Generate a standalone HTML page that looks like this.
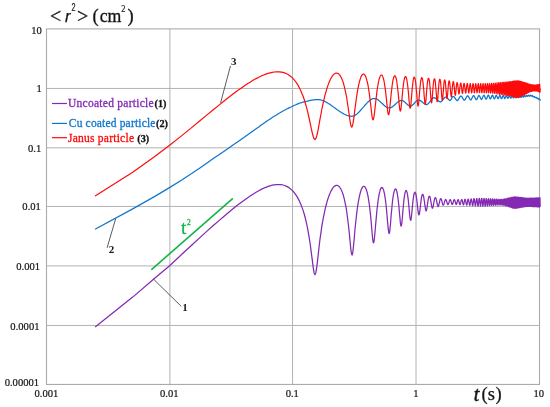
<!DOCTYPE html>
<html><head><meta charset="utf-8"><title>MSD</title>
<style>html,body{margin:0;padding:0;background:#fff}svg{display:block}</style>
</head><body>
<svg width="550" height="407" viewBox="0 0 550 407">
<rect width="550" height="407" fill="#fff"/>
<g stroke="#b2b2b2" stroke-width="1" fill="none"><line x1="169.9" y1="28.9" x2="169.9" y2="384.45"/><line x1="292.55" y1="28.9" x2="292.55" y2="384.45"/><line x1="416.0" y1="28.9" x2="416.0" y2="384.45"/><line x1="46.5" y1="88.45" x2="539.5" y2="88.45"/><line x1="46.5" y1="147.8" x2="539.5" y2="147.8"/><line x1="46.5" y1="206.45" x2="539.5" y2="206.45"/><line x1="46.5" y1="265.9" x2="539.5" y2="265.9"/><line x1="46.5" y1="325.45" x2="539.5" y2="325.45"/></g>
<rect x="46.5" y="28.9" width="493.00" height="355.55" fill="none" stroke="#ababab" stroke-width="1.1"/>
<g fill="none" stroke-linejoin="round" stroke-linecap="round">
<path stroke="#8429B3" stroke-width="1.25" d="M95.5,326.7 132.7,297.1 154.4,278.5 169.9,265.5 181.8,254.3 191.6,245.2 199.9,237.6 207.0,231.1 213.3,225.5 219.0,220.6 224.1,216.2 228.8,212.3 233.0,208.8 237.0,205.6 240.7,202.8 244.2,200.2 247.4,197.9 250.5,195.8 253.4,193.9 256.1,192.2 258.8,190.7 261.2,189.4 263.6,188.2 265.9,187.3 268.1,186.4 270.2,185.8 272.2,185.2 274.2,184.8 276.1,184.6 277.9,184.5 279.6,184.5 281.3,184.7 283.0,185.0 284.6,185.5 286.1,186.1 287.7,186.9 289.1,187.8 290.5,188.9 291.9,190.1 293.3,191.5 294.6,193.1 295.9,194.9 297.2,196.9 298.4,199.1 299.6,201.5 300.8,204.2 301.9,207.1 303.1,210.4 304.2,214.0 305.3,218.0 306.3,222.4 307.4,227.3 308.4,232.8 309.4,238.8 310.4,245.5 311.3,252.7 312.3,260.2 313.2,267.4 314.1,272.9 315.0,274.8 315.9,272.4 316.8,266.6 317.7,259.4 318.5,251.9 319.3,244.8 320.1,238.3 321.0,232.4 321.7,227.1 322.5,222.3 323.3,218.0 324.1,214.1 324.8,210.6 325.6,207.4 326.3,204.5 327.0,201.9 327.7,199.5 328.4,197.4 329.1,195.5 329.8,193.7 330.5,192.2 331.1,190.8 331.8,189.6 332.4,188.6 333.1,187.7 333.7,186.9 334.3,186.3 335.0,185.9 335.6,185.6 336.2,185.4 336.8,185.4 337.4,185.4 338.0,185.7 338.5,186.0 339.1,186.5 339.7,187.2 340.2,188.0 340.8,188.9 341.3,190.0 341.9,191.2 342.4,192.6 343.0,194.2 343.5,195.9 344.0,197.8 344.5,199.9 345.0,202.3 345.5,204.8 346.1,207.6 346.6,210.7 347.0,214.0 347.5,217.6 348.0,221.5 348.5,225.7 349.0,230.1 349.5,234.9 349.9,239.8 350.4,244.6 350.8,249.0 351.3,252.6 351.8,254.7 352.2,255.0 352.6,253.3 353.1,250.1 353.5,245.8 354.0,241.1 354.4,236.3 354.8,231.5 355.2,227.0 355.7,222.7 356.1,218.8 356.5,215.1 356.9,211.8 357.3,208.7 357.7,205.9 358.1,203.3 358.5,200.9 358.9,198.8 359.3,196.9 359.7,195.1 360.1,193.5 360.5,192.1 360.8,190.9 361.2,189.8 361.6,188.9 362.0,188.1 362.3,187.5 362.7,187.0 363.1,186.6 363.4,186.4 363.8,186.3 364.2,186.4 364.5,186.6 364.9,186.9 365.2,187.3 365.6,187.9 365.9,188.6 366.3,189.5 366.6,190.5 366.9,191.6 367.3,192.9 367.6,194.4 368.0,196.0 368.3,197.8 368.6,199.7 368.9,201.9 369.3,204.2 369.6,206.7 369.9,209.4 370.2,212.3 370.6,215.4 370.9,218.7 371.2,222.1 371.5,225.7 371.8,229.3 372.1,232.8 372.4,236.1 372.7,239.0 373.0,241.2 373.3,242.6 373.6,242.8 373.9,242.0 374.2,240.1 374.5,237.5 374.8,234.4 375.1,231.0 375.4,227.5 375.7,224.0 376.0,220.6 376.3,217.4 376.6,214.3 376.8,211.4 377.1,208.7 377.4,206.2 377.7,203.8 378.0,201.7 378.2,199.7 378.5,197.9 378.8,196.3 379.0,194.8 379.3,193.5 379.6,192.3 379.9,191.2 380.1,190.3 380.4,189.6 380.6,188.9 380.9,188.4 381.2,188.0 381.4,187.7 381.7,187.6 381.9,187.5 382.2,187.6 382.5,187.8 382.7,188.1 383.0,188.6 383.2,189.2 383.5,189.8 383.7,190.6 384.0,191.6 384.2,192.6 384.5,193.8 384.7,195.1 384.9,196.6 385.2,198.2 385.4,199.9 385.7,201.8 385.9,203.8 386.1,205.9 386.4,208.2 386.6,210.6 386.8,213.2 387.1,215.8 387.3,218.5 387.5,221.2 387.8,223.9 388.0,226.4 388.2,228.7 388.5,230.7 388.7,232.2 388.9,233.2 389.1,233.5 389.4,233.2 389.6,232.1 389.8,230.6 390.0,228.6 390.2,226.3 390.5,223.8 390.7,221.1 390.9,218.5 391.1,215.9 391.3,213.3 391.6,210.9 391.8,208.5 392.0,206.3 392.2,204.3 392.4,202.3 392.6,200.6 392.8,198.9 393.0,197.4 393.2,196.0 393.4,194.8 393.7,193.6 393.9,192.6 394.1,191.8 394.3,191.0 394.5,190.4 394.7,189.9 394.9,189.5 395.1,189.2 395.3,189.0 395.5,188.9 395.7,189.0 395.9,189.2 396.1,189.4 396.3,189.8 396.5,190.3 396.7,190.9 396.9,191.6 397.0,192.5 397.2,193.4 397.4,194.5 397.6,195.7 397.8,196.9 398.0,198.4 398.2,199.9 398.4,201.5 398.6,203.2 398.8,205.1 399.0,207.0 399.1,209.0 399.3,211.1 399.5,213.2 399.7,215.4 399.9,217.4 400.1,219.5 400.2,221.3 400.4,223.0 400.6,224.3 400.8,225.4 401.0,226.0 401.1,226.1 401.3,225.9 401.5,225.1 401.7,224.0 401.9,222.6 402.0,220.9 402.2,219.0 402.4,217.0 402.6,215.0 402.7,212.9 402.9,210.8 403.1,208.8 403.3,206.8 403.4,205.0 403.6,203.2 403.8,201.6 403.9,200.0 404.1,198.6 404.3,197.3 404.5,196.1 404.6,195.0 404.8,194.1 405.0,193.2 405.1,192.5 405.3,191.9 405.5,191.4 405.6,191.0 405.8,190.7 405.9,190.6 406.1,190.5 406.3,190.6 406.4,190.7 406.6,191.0 406.8,191.4 406.9,191.9 407.1,192.5 407.2,193.2 407.4,194.0 407.6,194.9 407.7,195.9 407.9,197.0 408.0,198.2 408.2,199.5 408.4,200.9 408.5,202.4 408.7,203.9 408.8,205.6 409.0,207.2 409.1,208.9 409.3,210.6 409.4,212.2 409.6,213.9 409.7,215.4 409.9,216.8 410.0,218.0 410.2,219.0 410.4,219.7 410.5,220.2 410.7,220.3 410.8,220.2 411.0,219.8 411.1,219.0 411.2,218.1 411.4,216.9 411.5,215.6 411.7,214.2 411.8,212.7 412.0,211.1 412.1,209.5 412.3,208.0 412.4,206.4 412.6,205.0 412.7,203.5 412.9,202.2 413.0,200.9 413.1,199.7 413.3,198.5 413.4,197.5 413.6,196.6 413.7,195.7 413.9,195.0 414.0,194.3 414.1,193.7 414.3,193.3 414.4,192.9 414.6,192.6 414.7,192.4 414.8,192.3 415.0,192.2 415.1,192.3 415.3,192.4 415.4,192.7 415.5,193.0 415.7,193.4 415.8,193.9 415.9,194.5 416.1,195.2 416.2,195.9 416.3,196.7 416.5,197.6 416.6,198.6 416.8,199.6 416.9,200.7 417.0,201.8 417.2,203.0 417.3,204.2 417.4,205.4 417.5,206.6 417.7,207.8 417.8,209.0 417.9,210.2 418.1,211.2 418.2,212.2 418.3,213.0 418.5,213.8 418.6,214.3 418.7,214.7 418.9,214.9 419.0,214.9 419.1,214.8 419.2,214.4 419.4,213.9 419.5,213.3 419.6,212.5 419.7,211.6 419.9,210.6 420.0,209.6 420.1,208.5 420.3,207.4 420.4,206.3 420.5,205.2 420.6,204.1 420.8,203.0 420.9,202.0 421.0,201.1 421.1,200.1 421.2,199.3 421.4,198.5 421.5,197.7 421.6,197.1 421.7,196.5 421.9,196.0 422.0,195.5 422.1,195.1 422.2,194.8 422.3,194.6 422.5,194.4 422.6,194.4 422.7,194.3 422.8,194.4 422.9,194.5 423.1,194.8 423.2,195.0 423.3,195.4 423.4,195.8 423.5,196.3 423.7,196.8 423.8,197.4 423.9,198.1 424.0,198.8 424.1,199.5 424.2,200.3 424.4,201.1 424.5,202.0 424.6,202.8 424.7,203.7 424.8,204.6 424.9,205.5 425.1,206.3 425.2,207.1 425.3,207.9 425.4,208.6 425.5,209.2 425.6,209.8 425.7,210.2 425.9,210.5 426.0,210.8 426.1,210.9 426.2,210.9 426.3,210.7 426.4,210.5 426.5,210.2 426.6,209.7 426.7,209.2 426.9,208.6 427.0,207.9 427.1,207.2 427.2,206.5 427.3,205.7 427.4,204.9 427.5,204.1 427.6,203.4 427.7,202.6 427.8,201.9 428.0,201.1 428.1,200.5 428.2,199.8 428.3,199.3 428.4,198.7 428.5,198.2 428.6,197.8 428.7,197.4 428.8,197.1 428.9,196.8 429.0,196.6 429.1,196.4 429.2,196.3 429.4,196.2 429.5,196.3 429.6,196.3 429.7,196.4 429.8,196.6 429.9,196.8 430.0,197.1 430.1,197.4 430.2,197.8 430.3,198.2 430.4,198.7 430.5,199.2 430.6,199.7 430.7,200.3 430.8,200.9 430.9,201.5 431.0,202.1 431.1,202.7 431.2,203.3 431.3,204.0 431.4,204.6 431.5,205.2 431.6,205.7 431.7,206.2 431.8,206.7 431.9,207.1 432.0,207.5 432.1,207.8 432.2,208.0 432.3,208.1 432.4,208.2 432.5,208.2 432.6,208.1 432.7,207.9 432.8,207.7 432.9,207.4 433.0,207.0 433.1,206.6 433.2,206.1 433.3,205.6 433.4,205.1 433.5,204.6 433.6,204.0 433.7,203.4 433.8,202.9 433.9,202.3 434.0,201.8 434.1,201.3 434.2,200.7 434.3,200.3 434.4,199.8 434.5,199.4 434.6,199.0 434.7,198.7 434.8,198.4 434.9,198.2 435.0,197.9 435.1,197.8 435.2,197.7 435.3,197.6 435.4,197.6 435.5,197.6 435.6,197.7 435.7,197.9 435.8,198.1 435.9,198.3 436.0,198.5 436.1,198.8 436.2,199.2 436.3,199.5 436.4,199.9 436.5,200.3 436.6,200.8 436.7,201.2 436.8,201.7 436.9,202.2 436.9,202.6 437.0,203.1 437.1,203.5 437.2,204.0 437.3,204.4 437.4,204.8 437.5,205.2 437.6,205.5 437.7,205.8 437.8,206.0 437.9,206.2 437.9,206.4 438.0,206.5 438.1,206.5 438.2,206.5 438.3,206.4 438.4,206.3 438.5,206.1 438.6,205.9 438.7,205.6 438.8,205.3 438.8,204.9 438.9,204.6 439.0,204.2 439.1,203.8 439.2,203.4 439.3,203.0 439.4,202.6 439.5,202.1 439.6,201.7 439.6,201.3 439.7,201.0 439.8,200.6 439.9,200.3 440.0,200.0 440.1,199.7 440.2,199.4 440.2,199.2 440.3,199.0 440.4,198.9 440.5,198.8 440.6,198.7 440.7,198.6 440.8,198.6 440.9,198.7 441.0,198.8 441.1,198.9 441.2,199.0 441.3,199.2 441.4,199.4 441.4,199.7 441.5,199.9 441.6,200.2 441.7,200.5 441.8,200.8 441.9,201.1 441.9,201.5 442.0,201.8 442.1,202.2 442.2,202.5 442.3,202.8 442.4,203.2 442.4,203.5 442.5,203.8 442.6,204.1 442.7,204.3 442.8,204.5 442.9,204.7 442.9,204.9 443.0,205.0 443.1,205.1 443.2,205.1 443.3,205.1 443.4,205.1 443.4,205.0 443.5,204.9 443.6,204.8 443.7,204.6 443.8,204.4 443.8,204.2 443.9,204.0 444.0,203.7 444.1,203.5 444.2,203.2 444.2,202.9 444.3,202.6 444.4,202.3 444.5,202.0 444.6,201.7 444.6,201.5 444.7,201.2 444.8,201.0 444.9,200.7 445.0,200.5 445.0,200.3 445.1,200.1 445.2,200.0 445.3,199.8 445.4,199.7 445.5,199.6 445.6,199.6 445.7,199.5 445.7,199.6 445.8,199.6 445.9,199.7 446.0,199.8 446.1,199.9 446.1,200.0 446.2,200.1 446.3,200.3 446.4,200.5 446.4,200.7 446.5,200.9 446.6,201.2 446.7,201.4 446.8,201.7 446.8,201.9 446.9,202.2 447.0,202.4 447.1,202.7 447.1,202.9 447.2,203.2 447.3,203.4 447.4,203.6 447.4,203.8 447.5,204.0 447.6,204.1 447.7,204.3 447.7,204.4 447.8,204.4 447.9,204.5 448.0,204.5 448.1,204.4 448.2,204.4 448.3,204.3 448.3,204.1 448.4,204.0 448.5,203.8 448.6,203.6 448.6,203.4 448.7,203.2 448.8,203.0 448.9,202.7 448.9,202.5 449.0,202.2 449.1,202.0 449.1,201.7 449.2,201.5 449.3,201.2 449.4,201.0 449.4,200.8 449.5,200.6 449.6,200.4 449.7,200.2 449.7,200.1 449.8,200.0 449.9,199.9 449.9,199.8 450.0,199.7 450.1,199.7 450.2,199.7 450.3,199.7 450.4,199.8 450.5,199.9 450.5,200.0 450.6,200.1 450.7,200.3 450.7,200.4 450.8,200.6 450.9,200.8 451.0,201.0 451.0,201.2 451.1,201.5 451.2,201.7 451.2,202.0 451.3,202.2 451.4,202.5 451.4,202.7 451.5,202.9 451.6,203.2 451.7,203.4 451.7,203.6 451.8,203.8 451.9,203.9 451.9,204.1 452.0,204.2 452.1,204.3 452.1,204.4 452.2,204.4 452.3,204.4 452.4,204.4 452.5,204.3 452.6,204.2 452.6,204.1 452.7,203.9 452.8,203.7 452.8,203.6 452.9,203.3 453.0,203.1 453.0,202.9 453.1,202.7 453.2,202.4 453.2,202.2 453.3,201.9 453.4,201.7 453.4,201.4 453.5,201.2 453.6,201.0 453.6,200.8 453.7,200.6 453.8,200.4 453.8,200.2 453.9,200.1 454.0,200.0 454.0,199.9 454.1,199.8 454.2,199.8 454.2,199.7 454.3,199.7 454.4,199.7 454.4,199.8 454.5,199.8 454.6,199.9 454.6,200.0 454.7,200.2 454.8,200.3 454.8,200.5 454.9,200.7 455.0,200.9 455.0,201.1 455.1,201.3 455.2,201.5 455.2,201.8 455.3,202.0 455.4,202.3 455.4,202.5 455.5,202.7 455.6,203.0 455.6,203.2 455.7,203.4 455.8,203.6 455.8,203.8 455.9,204.0 456.0,204.1 456.0,204.2 456.1,204.3 456.1,204.4 456.2,204.4 456.3,204.4 456.4,204.4 456.5,204.3 456.5,204.2 456.6,204.0 456.7,203.9 456.7,203.7 456.8,203.5 456.8,203.3 456.9,203.1 457.0,202.9 457.0,202.6 457.1,202.4 457.2,202.1 457.2,201.9 457.3,201.6 457.4,201.4 457.4,201.1 457.5,200.9 457.5,200.7 457.6,200.5 457.7,200.3 457.7,200.2 457.8,200.0 457.9,199.9 457.9,199.8 458.0,199.7 458.1,199.6 458.2,199.6 458.2,199.7 458.3,199.7 458.3,199.8 458.4,199.9 458.5,200.0 458.5,200.1 458.6,200.3 458.7,200.4 458.7,200.6 458.8,200.8 458.8,201.1 458.9,201.3 459.0,201.6 459.0,201.8 459.1,202.1 459.1,202.3 459.2,202.6 459.3,202.8 459.3,203.1 459.4,203.3 459.4,203.6 459.5,203.8 459.6,204.0 459.6,204.1 459.7,204.3 459.7,204.4 459.8,204.5 459.9,204.6 460.0,204.6 460.1,204.5 460.2,204.4 460.2,204.3 460.3,204.2 460.3,204.0 460.4,203.8 460.5,203.6 460.5,203.4 460.6,203.1 460.6,202.9 460.7,202.6 460.8,202.3 460.8,202.1 460.9,201.8 460.9,201.5 461.0,201.3 461.1,201.0 461.1,200.8 461.2,200.6 461.2,200.4 461.3,200.2 461.3,200.0 461.4,199.9 461.5,199.7 461.5,199.6 461.6,199.6 461.6,199.5 461.7,199.5 461.8,199.5 461.9,199.5 461.9,199.6 462.0,199.7 462.0,199.8 462.1,200.0 462.2,200.2 462.2,200.4 462.3,200.6 462.3,200.8 462.4,201.0 462.4,201.3 462.5,201.6 462.6,201.8 462.6,202.1 462.7,202.4 462.7,202.7 462.8,203.0 462.8,203.2 462.9,203.5 463.0,203.7 463.0,204.0 463.1,204.2 463.1,204.4 463.2,204.5 463.2,204.6 463.3,204.7 463.4,204.8 463.5,204.8 463.6,204.7 463.6,204.6 463.7,204.5 463.7,204.3 463.8,204.1 463.9,203.9 463.9,203.7 464.0,203.4 464.0,203.2 464.1,202.9 464.1,202.6 464.2,202.3 464.2,202.0 464.3,201.7 464.4,201.5 464.4,201.2 464.5,200.9 464.5,200.7 464.6,200.4 464.6,200.2 464.7,200.0 464.7,199.8 464.8,199.7 464.8,199.5 464.9,199.4 465.0,199.3 465.1,199.3 465.2,199.3 465.2,199.4 465.3,199.5 465.3,199.6 465.4,199.7 465.4,199.9 465.5,200.1 465.6,200.3 465.6,200.5 465.7,200.8 465.7,201.0 465.8,201.3 465.8,201.6 465.9,201.9 465.9,202.2 466.0,202.5 466.0,202.8 466.1,203.1 466.1,203.4 466.2,203.7 466.2,203.9 466.3,204.2 466.4,204.4 466.4,204.6 466.5,204.7 466.5,204.9 466.6,205.0 466.7,205.1 466.8,205.0 466.8,204.9 466.9,204.8 466.9,204.7 467.0,204.5 467.0,204.3 467.1,204.0 467.1,203.8 467.2,203.5 467.3,203.2 467.3,202.9 467.4,202.6 467.4,202.3 467.5,202.0 467.5,201.7 467.6,201.4 467.6,201.1 467.7,200.8 467.7,200.5 467.8,200.3 467.8,200.0 467.9,199.8 467.9,199.6 468.0,199.5 468.0,199.3 468.1,199.2 468.2,199.1 468.3,199.1 468.3,199.2 468.4,199.2 468.4,199.3 468.5,199.5 468.5,199.6 468.6,199.8 468.6,200.0 468.7,200.2 468.7,200.5 468.8,200.7 468.8,201.0 468.9,201.3 468.9,201.6 469.0,202.0 469.1,202.3 469.1,202.6 469.2,202.9 469.2,203.3 469.3,203.6 469.3,203.8 469.4,204.1 469.4,204.4 469.5,204.6 469.5,204.8 469.6,205.0 469.6,205.1 469.7,205.2 469.7,205.3 469.8,205.3 469.9,205.2 469.9,205.1 470.0,205.0 470.0,204.8 470.1,204.6 470.1,204.4 470.2,204.1 470.2,203.8 470.2,203.5 470.3,203.2 470.3,202.9 470.4,202.6 470.4,202.2 470.5,201.9 470.5,201.6 470.6,201.3 470.6,200.9 470.7,200.6 470.7,200.4 470.8,200.1 470.8,199.9 470.9,199.6 470.9,199.5 471.0,199.3 471.0,199.2 471.1,199.1 471.1,199.0 471.2,198.9 471.3,198.9 471.3,199.0 471.4,199.1 471.4,199.2 471.5,199.3 471.5,199.5 471.6,199.7 471.6,199.9 471.7,200.2 471.7,200.4 471.8,200.7 471.8,201.0 471.9,201.4 471.9,201.7 472.0,202.0 472.0,202.4 472.0,202.7 472.1,203.1 472.1,203.4 472.2,203.7 472.2,204.0 472.3,204.3 472.3,204.6 472.4,204.8 472.4,205.1 472.5,205.2 472.5,205.4 472.6,205.5 472.7,205.5 472.8,205.4 472.8,205.3 472.9,205.2 472.9,205.0 472.9,204.8 473.0,204.5 473.0,204.2 473.1,203.9 473.1,203.6 473.2,203.3 473.2,202.9 473.3,202.6 473.3,202.2 473.4,201.8 473.4,201.5 473.5,201.1 473.5,200.8 473.6,200.5 473.6,200.2 473.6,199.9 473.7,199.7 473.7,199.5 473.8,199.3 473.8,199.1 473.9,198.9 473.9,198.8 474.0,198.8 474.0,198.7 474.1,198.7 474.2,198.8 474.2,198.9 474.2,199.0 474.3,199.2 474.3,199.4 474.4,199.6 474.4,199.8 474.5,200.1 474.5,200.4 474.6,200.7 474.6,201.0 474.7,201.4 474.7,201.7 474.7,202.1 474.8,202.5 474.8,202.9 474.9,203.2 474.9,203.6 475.0,203.9 475.0,204.3 475.1,204.6 475.1,204.8 475.2,205.1 475.2,205.3 475.2,205.5 475.3,205.6 475.3,205.7 475.4,205.8 475.5,205.7 475.5,205.6 475.6,205.5 475.6,205.3 475.7,205.1 475.7,204.9 475.7,204.6 475.8,204.3 475.8,204.0 475.9,203.6 475.9,203.3 476.0,202.9 476.0,202.5 476.1,202.1 476.1,201.8 476.1,201.4 476.2,201.0 476.2,200.7 476.3,200.3 476.3,200.0 476.4,199.8 476.4,199.5 476.4,199.3 476.5,199.1 476.5,198.9 476.6,198.8 476.6,198.7 476.7,198.6 476.8,198.6 476.8,198.7 476.9,198.8 476.9,198.9 477.0,199.1 477.0,199.3 477.1,199.5 477.1,199.8 477.1,200.1 477.2,200.4 477.2,200.7 477.3,201.1 477.3,201.4 477.4,201.8 477.4,202.2 477.5,202.6 477.5,203.0 477.5,203.4 477.6,203.7 477.6,204.1 477.7,204.4 477.7,204.8 477.8,205.1 477.8,205.3 477.8,205.5 477.9,205.7 477.9,205.8 478.0,205.9 478.0,206.0 478.1,206.0 478.1,205.9 478.1,205.8 478.2,205.7 478.2,205.5 478.3,205.2 478.3,205.0 478.4,204.7 478.4,204.4 478.4,204.0 478.5,203.6 478.5,203.2 478.6,202.9 478.6,202.5 478.6,202.1 478.7,201.7 478.7,201.3 478.8,200.9 478.8,200.6 478.9,200.2 478.9,199.9 478.9,199.6 479.0,199.4 479.0,199.1 479.1,198.9 479.1,198.8 479.2,198.6 479.2,198.5 479.3,198.4 479.4,198.5 479.4,198.6 479.4,198.7 479.5,198.8 479.5,199.0 479.6,199.2 479.6,199.5 479.7,199.8 479.7,200.1 479.7,200.4 479.8,200.7 479.8,201.1 479.9,201.5 479.9,201.9 479.9,202.3 480.0,202.7 480.0,203.1 480.1,203.5 480.1,203.9 480.1,204.2 480.2,204.6 480.2,204.9 480.3,205.2 480.3,205.5 480.4,205.7 480.4,205.8 480.4,206.0 480.5,206.1 480.6,206.1 480.6,206.0 480.6,205.9 480.7,205.7 480.7,205.5 480.8,205.3 480.8,205.0 480.8,204.7 480.9,204.3 480.9,204.0 481.0,203.6 481.0,203.2 481.0,202.8 481.1,202.4 481.1,202.0 481.2,201.6 481.2,201.2 481.2,200.8 481.3,200.5 481.3,200.1 481.4,199.8 481.4,199.5 481.4,199.3 481.5,199.0 481.5,198.8 481.6,198.7 481.6,198.6 481.6,198.5 481.7,198.4 481.8,198.4 481.8,198.5 481.9,198.7 481.9,198.8 482.0,199.0 482.0,199.3 482.0,199.5 482.1,199.8 482.1,200.1 482.2,200.4 482.2,200.8 482.2,201.2 482.3,201.6 482.3,202.0 482.4,202.4 482.4,202.8 482.4,203.2 482.5,203.6 482.5,204.0 482.6,204.3 482.6,204.7 482.6,205.0 482.7,205.3 482.7,205.5 482.8,205.7 482.8,205.9 482.8,206.0 482.9,206.1 483.0,206.0 483.0,205.8 483.1,205.7 483.1,205.5 483.1,205.2 483.2,204.9 483.2,204.6 483.3,204.3 483.3,203.9 483.3,203.5 483.4,203.1 483.4,202.7 483.5,202.3 483.5,201.9 483.5,201.5 483.6,201.1 483.6,200.8 483.6,200.4 483.7,200.1 483.7,199.8 483.8,199.5 483.8,199.2 483.8,199.0 483.9,198.8 483.9,198.7 484.0,198.6 484.0,198.5 484.0,198.4 484.1,198.4 484.1,198.5 484.2,198.6 484.2,198.8 484.3,198.9 484.3,199.1 484.3,199.4 484.4,199.6 484.4,199.9 484.4,200.2 484.5,200.5 484.5,200.9 484.6,201.3 484.6,201.7 484.6,202.0 484.7,202.4 484.7,202.8 484.8,203.2 484.8,203.6 484.8,204.0 484.9,204.3 484.9,204.7 484.9,205.0 485.0,205.2 485.0,205.5 485.1,205.6 485.1,205.8 485.1,205.9 485.2,206.0 485.2,205.9 485.3,205.8 485.3,205.7 485.4,205.5 485.4,205.3 485.4,205.1 485.5,204.8 485.5,204.5 485.5,204.1 485.6,203.8 485.6,203.4 485.6,203.0 485.7,202.6 485.7,202.2 485.8,201.8 485.8,201.4 485.8,201.1 485.9,200.7 485.9,200.4 485.9,200.1 486.0,199.8 486.0,199.5 486.1,199.3 486.1,199.1 486.1,198.9 486.2,198.8 486.2,198.7 486.2,198.6 486.3,198.6 486.4,198.7 486.4,198.8 486.5,198.9 486.5,199.1 486.5,199.3 486.6,199.5 486.6,199.7 486.6,200.0 486.7,200.3 486.7,200.7 486.7,201.0 486.8,201.4 486.8,201.7 486.9,202.1 486.9,202.5 486.9,202.9 487.0,203.3 487.0,203.6 487.0,204.0 487.1,204.3 487.1,204.6 487.1,204.9 487.2,205.1 487.2,205.3 487.3,205.5 487.3,205.7 487.4,205.8 487.4,205.7 487.5,205.6 487.5,205.5 487.5,205.3 487.6,205.1 487.6,204.9 487.6,204.6 487.7,204.3 487.7,204.0 487.8,203.6 487.8,203.2 487.8,202.9 487.9,202.5 487.9,202.1 487.9,201.8 488.0,201.4 488.0,201.0 488.0,200.7 488.1,200.4 488.1,200.1 488.1,199.8 488.2,199.6 488.2,199.4 488.3,199.2 488.3,199.0 488.3,198.9 488.4,198.8 488.4,198.7 488.5,198.7 488.5,198.8 488.6,198.9 488.6,199.0 488.6,199.2 488.7,199.4 488.7,199.6 488.7,199.9 488.8,200.2 488.8,200.5 488.9,200.8 488.9,201.1 488.9,201.5 489.0,201.8 489.0,202.2 489.0,202.5 489.1,202.9 489.1,203.3 489.1,203.6 489.2,203.9 489.2,204.2 489.2,204.5 489.3,204.8 489.3,205.0 489.3,205.2 489.4,205.4 489.4,205.5 489.4,205.6 489.5,205.6 489.5,205.5 489.6,205.4 489.6,205.3 489.6,205.1 489.7,204.9 489.7,204.7 489.8,204.4 489.8,204.1 489.8,203.8 489.9,203.5 489.9,203.1 489.9,202.8 490.0,202.4 490.0,202.0 490.0,201.7 490.1,201.4 490.1,201.0 490.1,200.7 490.2,200.4 490.2,200.1 490.2,199.9 490.3,199.6 490.3,199.4 490.3,199.3 490.4,199.1 490.4,199.0 490.4,198.9 490.5,198.8 490.6,198.9 490.6,199.0 490.6,199.1 490.7,199.2 490.7,199.4 490.7,199.6 490.8,199.8 490.8,200.0 490.8,200.3 490.9,200.6 490.9,200.9 490.9,201.2 491.0,201.6 491.0,201.9 491.0,202.2 491.1,202.6 491.1,202.9 491.1,203.3 491.2,203.6 491.2,203.9 491.2,204.2 491.3,204.5 491.3,204.7 491.3,204.9 491.4,205.1 491.4,205.2 491.4,205.4 491.5,205.4 491.6,205.4 491.6,205.3 491.6,205.1 491.7,205.0 491.7,204.7 491.7,204.5 491.8,204.2 491.8,204.0 491.8,203.7 491.9,203.3 491.9,203.0 491.9,202.7 492.0,202.3 492.0,202.0 492.0,201.6 492.1,201.3 492.1,201.0 492.1,200.7 492.2,200.4 492.2,200.1 492.2,199.9 492.3,199.7 492.3,199.5 492.3,199.3 492.4,199.2 492.4,199.1 492.4,199.0 492.5,198.9 492.6,199.0 492.6,199.1 492.6,199.2 492.7,199.3 492.7,199.5 492.7,199.7 492.8,199.9 492.8,200.1 492.8,200.4 492.9,200.7 492.9,201.0 492.9,201.3 493.0,201.6 493.0,202.0 493.0,202.3 493.0,202.6 493.1,203.0 493.1,203.3 493.1,203.6 493.2,203.9 493.2,204.2 493.2,204.4 493.3,204.7 493.3,204.9 493.3,205.0 493.4,205.2 493.4,205.3 493.5,205.3 493.5,205.2 493.6,205.1 493.6,205.0 493.6,204.8 493.7,204.6 493.7,204.4 493.7,204.1 493.8,203.8 493.8,203.5 493.8,203.2 493.8,202.9 493.9,202.6 493.9,202.2 493.9,201.9 494.0,201.6 494.0,201.3 494.0,201.0 494.1,200.7 494.1,200.4 494.1,200.1 494.2,199.9 494.2,199.7 494.2,199.5 494.3,199.4 494.3,199.2 494.3,199.1 494.4,199.1 494.4,199.0 494.5,199.1 494.5,199.2 494.5,199.3 494.6,199.4 494.6,199.6 494.6,199.8 494.7,200.0 494.7,200.3 494.7,200.5 494.8,200.8 494.8,201.1 494.8,201.4 494.9,201.7 494.9,202.0 494.9,202.4 495.0,202.7 495.0,203.0 495.0,203.3 495.0,203.6 495.1,203.9 495.1,204.1 495.1,204.4 495.2,204.6 495.2,204.8 495.2,204.9 495.3,205.1 495.3,205.2 495.4,205.2 495.4,205.1 495.4,205.0 495.5,204.8 495.5,204.7 495.5,204.5 495.6,204.2 495.6,204.0 495.6,203.7 495.7,203.4 495.7,203.1 495.7,202.8 495.8,202.5 495.8,202.2 495.8,201.8 495.8,201.5 495.9,201.2 495.9,200.9 495.9,200.7 496.0,200.4 496.0,200.2 496.0,199.9 496.1,199.7 496.1,199.6 496.1,199.4 496.2,199.3 496.2,199.2 496.2,199.1 496.3,199.1 496.3,199.2 496.4,199.3 496.4,199.4 496.4,199.6 496.5,199.7 496.5,199.9 496.5,200.1 496.5,200.4 496.6,200.6 496.6,200.9 496.6,201.2 496.7,201.5 496.7,201.8 496.7,202.1 496.8,202.4 496.8,202.7 496.8,203.0 496.9,203.3 496.9,203.6 496.9,203.9 496.9,204.1 497.0,204.3 497.0,204.5 497.0,204.7 497.1,204.9 497.1,205.0 497.2,205.1 497.2,205.0 497.3,204.8 497.3,204.7 497.3,204.5 497.4,204.3 497.4,204.1 497.4,203.9 497.4,203.6 497.5,203.3 497.5,203.0 497.5,202.7 497.6,202.4 497.6,202.1 497.6,201.8 497.7,201.5 497.7,201.2 497.7,200.9 497.7,200.7 497.8,200.4 497.8,200.2 497.8,200.0 497.9,199.8 497.9,199.6 497.9,199.5 498.0,199.4 498.0,199.3 498.0,199.2 498.1,199.2 498.1,199.3 498.2,199.4 498.2,199.5 498.2,199.7 498.2,199.8 498.3,200.0 498.3,200.2 498.3,200.5 498.4,200.7 498.4,201.0 498.4,201.3 498.5,201.5 498.5,201.8 498.5,202.1 498.5,202.4 498.6,202.7 498.6,203.0 498.6,203.3 498.7,203.6 498.7,203.9 498.7,204.1 498.7,204.3 498.8,204.5 498.8,204.7 498.8,204.8 498.9,204.9 498.9,205.0 499.0,204.9 499.0,204.7 499.1,204.6 499.1,204.4 499.1,204.2 499.1,204.0 499.2,203.8 499.2,203.5 499.2,203.2 499.3,202.9 499.3,202.6 499.3,202.3 499.3,202.0 499.4,201.7 499.4,201.4 499.4,201.2 499.5,200.9 499.5,200.6 499.5,200.4 499.5,200.2 499.6,200.0 499.6,199.8 499.6,199.6 499.7,199.5 499.7,199.4 499.7,199.3 499.8,199.3 499.9,199.4 499.9,199.5 499.9,199.6 499.9,199.7 500.0,199.9 500.0,200.1 500.0,200.3 500.1,200.5 500.1,200.8 500.1,201.0 500.1,201.3 500.2,201.6 500.2,201.9 500.2,202.2 500.3,202.5 500.3,202.8 500.3,203.1 500.3,203.4 500.4,203.6 500.4,203.9 500.4,204.1 500.5,204.3 500.5,204.5 500.5,204.7 500.5,204.8 500.6,204.9 500.7,204.9 500.7,204.8 500.7,204.7 500.8,204.5 500.8,204.4 500.8,204.2 500.8,203.9 500.9,203.7 500.9,203.4 500.9,203.2 501.0,202.9 501.0,202.6 501.0,202.3 501.0,202.0 501.1,201.7 501.1,201.4 501.1,201.1 501.2,200.8 501.2,200.6 501.2,200.4 501.2,200.1 501.3,199.9 501.3,199.8 501.3,199.6 501.3,199.5 501.4,199.4 501.4,199.3 501.5,199.3 501.5,199.4 501.6,199.5 501.6,199.6 501.6,199.7 501.7,199.9 501.7,200.1 501.7,200.3 501.7,200.6 501.8,200.8 501.8,201.1 501.8,201.4 501.8,201.7 501.9,202.0 501.9,202.3 501.9,202.6 502.0,202.9 502.0,203.2 502.0,203.4 502.0,203.7 502.1,204.0 502.1,204.2 502.1,204.4 502.1,204.6 502.2,204.8 502.2,204.9 502.2,205.0 502.3,205.0 502.4,204.9 502.4,204.8 502.4,204.6 502.4,204.4 502.5,204.2 502.5,204.0 502.5,203.7 502.6,203.4 502.6,203.1 502.6,202.8 502.6,202.5 502.7,202.2 502.7,201.9 502.7,201.6 502.7,201.3 502.8,201.0 502.8,200.7 502.8,200.5 502.8,200.2 502.9,200.0 502.9,199.8 502.9,199.6 503.0,199.5 503.0,199.3 503.0,199.2 503.1,199.1 503.1,199.2 503.2,199.2 503.2,199.3 503.2,199.5 503.3,199.6 503.3,199.8 503.3,200.0 503.3,200.3 503.4,200.5 503.4,200.8 503.4,201.1 503.4,201.4 503.5,201.7 503.5,202.0 503.5,202.4 503.5,202.7 503.6,203.0 503.6,203.3 503.6,203.6 503.7,203.9 503.7,204.2 503.7,204.4 503.7,204.7 503.8,204.9 503.8,205.0 503.8,205.2 503.8,205.3 503.9,205.3 503.9,205.2 504.0,205.1 504.0,205.0 504.0,204.8 504.0,204.6 504.1,204.4 504.1,204.1 504.1,203.8 504.2,203.5 504.2,203.2 504.2,202.9 504.2,202.5 504.3,202.2 504.3,201.8 504.3,201.5 504.3,201.2 504.4,200.9 504.4,200.6 504.4,200.3 504.4,200.0 504.5,199.8 504.5,199.6 504.5,199.4 504.5,199.2 504.6,199.1 504.6,199.0 504.6,198.9 504.6,198.8 504.7,198.8 504.7,198.9 504.8,199.0 504.8,199.1 504.8,199.3 504.8,199.5 504.9,199.7 504.9,199.9 504.9,200.2 504.9,200.4 505.0,200.7 505.0,201.1 505.0,201.4 505.0,201.8 505.1,202.1 505.1,202.5 505.1,202.8 505.1,203.2 505.2,203.5 505.2,203.9 505.2,204.2 505.2,204.5 505.3,204.8 505.3,205.0 505.3,205.2 505.3,205.4 505.4,205.5 505.4,205.6 505.4,205.7 505.5,205.7 505.5,205.6 505.5,205.5 505.6,205.3 505.6,205.1 505.6,204.9 505.6,204.6 505.7,204.3 505.7,204.0 505.7,203.6 505.7,203.3 505.8,202.9 505.8,202.5 505.8,202.1 505.8,201.8 505.9,201.4 505.9,201.0 505.9,200.7 505.9,200.4 506.0,200.0 506.0,199.8 506.0,199.5 506.0,199.3 506.1,199.1 506.1,198.9 506.1,198.7 506.1,198.6 506.2,198.6 506.2,198.5 506.2,198.6 506.3,198.6 506.3,198.7 506.3,198.9 506.3,199.0 506.4,199.2 506.4,199.5 506.4,199.7 506.4,200.0 506.5,200.3 506.5,200.7 506.5,201.0 506.5,201.4 506.6,201.8 506.6,202.2 506.6,202.6 506.6,203.0 506.7,203.4 506.7,203.8 506.7,204.2 506.7,204.5 506.8,204.8 506.8,205.1 506.8,205.4 506.8,205.6 506.9,205.8 506.9,206.0 506.9,206.1 507.0,206.1 507.0,206.0 507.0,205.8 507.1,205.6 507.1,205.4 507.1,205.1 507.1,204.8 507.2,204.5 507.2,204.1 507.2,203.7 507.2,203.3 507.3,202.9 507.3,202.5 507.3,202.1 507.3,201.7 507.4,201.3 507.4,200.9 507.4,200.5 507.4,200.1 507.5,199.8 507.5,199.5 507.5,199.2 507.5,199.0 507.6,198.8 507.6,198.6 507.6,198.4 507.6,198.3 507.7,198.3 507.7,198.2 507.7,198.3 507.8,198.4 507.8,198.5 507.8,198.6 507.8,198.8 507.9,199.1 507.9,199.3 507.9,199.6 507.9,199.9 508.0,200.3 508.0,200.7 508.0,201.0 508.0,201.5 508.1,201.9 508.1,202.3 508.1,202.7 508.1,203.2 508.1,203.6 508.2,204.0 508.2,204.4 508.2,204.8 508.2,205.2 508.3,205.5 508.3,205.8 508.3,206.0 508.3,206.2 508.4,206.4 508.4,206.5 508.5,206.4 508.5,206.3 508.5,206.1 508.5,205.9 508.6,205.6 508.6,205.3 508.6,205.0 508.6,204.6 508.7,204.2 508.7,203.8 508.7,203.3 508.7,202.9 508.8,202.4 508.8,202.0 508.8,201.5 508.8,201.1 508.8,200.7 508.9,200.3 508.9,199.9 508.9,199.6 508.9,199.2 509.0,198.9 509.0,198.7 509.0,198.5 509.0,198.3 509.1,198.1 509.1,198.0 509.1,197.9 509.2,197.9 509.2,198.0 509.2,198.1 509.2,198.2 509.3,198.4 509.3,198.6 509.3,198.9 509.3,199.2 509.4,199.5 509.4,199.8 509.4,200.2 509.4,200.6 509.4,201.1 509.5,201.5 509.5,202.0 509.5,202.4 509.5,202.9 509.6,203.4 509.6,203.9 509.6,204.3 509.6,204.8 509.7,205.2 509.7,205.6 509.7,205.9 509.7,206.2 509.8,206.5 509.8,206.7 509.8,206.8 509.8,206.9 509.9,207.0 509.9,206.9 509.9,206.7 509.9,206.5 510.0,206.3 510.0,205.9 510.0,205.6 510.0,205.2 510.1,204.8 510.1,204.3 510.1,203.9 510.1,203.4 510.2,202.9 510.2,202.4 510.2,201.9 510.2,201.4 510.3,200.9 510.3,200.5 510.3,200.0 510.3,199.6 510.3,199.3 510.4,198.9 510.4,198.6 510.4,198.3 510.4,198.1 510.5,197.9 510.5,197.8 510.5,197.6 510.6,197.6 510.6,197.7 510.6,197.8 510.6,197.9 510.7,198.1 510.7,198.4 510.7,198.6 510.7,199.0 510.8,199.3 510.8,199.7 510.8,200.1 510.8,200.6 510.9,201.1 510.9,201.6 510.9,202.1 510.9,202.6 510.9,203.1 511.0,203.6 511.0,204.2 511.0,204.7 511.0,205.2 511.1,205.6 511.1,206.0 511.1,206.4 511.1,206.7 511.2,207.0 511.2,207.2 511.2,207.4 511.2,207.5 511.3,207.5 511.3,207.4 511.3,207.2 511.3,206.9 511.4,206.6 511.4,206.3 511.4,205.9 511.4,205.4 511.5,205.0 511.5,204.5 511.5,203.9 511.5,203.4 511.5,202.9 511.6,202.3 511.6,201.8 511.6,201.2 511.6,200.7 511.7,200.3 511.7,199.8 511.7,199.4 511.7,199.0 511.8,198.6 511.8,198.3 511.8,198.0 511.8,197.7 511.8,197.5 511.9,197.4 511.9,197.3 511.9,197.2 512.0,197.2 512.0,197.3 512.0,197.5 512.0,197.6 512.0,197.9 512.1,198.1 512.1,198.4 512.1,198.8 512.1,199.2 512.2,199.6 512.2,200.1 512.2,200.6 512.2,201.1 512.3,201.6 512.3,202.2 512.3,202.8 512.3,203.3 512.3,203.9 512.4,204.5 512.4,205.0 512.4,205.5 512.4,206.0 512.5,206.5 512.5,206.9 512.5,207.2 512.5,207.5 512.5,207.8 512.6,207.9 512.6,208.0 512.6,207.9 512.7,207.8 512.7,207.6 512.7,207.3 512.7,207.0 512.7,206.6 512.8,206.1 512.8,205.6 512.8,205.1 512.8,204.5 512.9,204.0 512.9,203.4 512.9,202.8 512.9,202.2 512.9,201.7 513.0,201.1 513.0,200.6 513.0,200.0 513.0,199.6 513.1,199.1 513.1,198.7 513.1,198.3 513.1,198.0 513.1,197.7 513.2,197.4 513.2,197.2 513.2,197.1 513.2,197.0 513.3,197.0 513.3,197.1 513.3,197.3 513.4,197.5 513.4,197.7 513.4,198.0 513.4,198.3 513.5,198.7 513.5,199.1 513.5,199.6 513.5,200.1 513.5,200.6 513.6,201.2 513.6,201.7 513.6,202.3 513.6,202.9 513.7,203.5 513.7,204.1 513.7,204.7 513.7,205.3 513.7,205.8 513.8,206.3 513.8,206.8 513.8,207.2 513.8,207.6 513.9,207.9 513.9,208.1 513.9,208.2 513.9,208.3 514.0,208.2 514.0,208.0 514.0,207.8 514.0,207.5 514.0,207.1 514.1,206.7 514.1,206.2 514.1,205.7 514.1,205.1 514.2,204.5 514.2,203.9 514.2,203.3 514.2,202.7 514.2,202.1 514.3,201.5 514.3,201.0 514.3,200.4 514.3,199.9 514.4,199.4 514.4,198.9 514.4,198.5 514.4,198.1 514.4,197.8 514.5,197.5 514.5,197.3 514.5,197.1 514.5,197.0 514.5,196.9 514.6,196.8 514.6,196.9 514.6,197.0 514.7,197.2 514.7,197.4 514.7,197.7 514.7,198.0 514.7,198.4 514.8,198.7 514.8,199.2 514.8,199.7 514.8,200.2 514.9,200.7 514.9,201.3 514.9,201.9 514.9,202.4 514.9,203.1 515.0,203.7 515.0,204.3 515.0,204.9 515.0,205.4 515.0,206.0 515.1,206.5 515.1,206.9 515.1,207.3 515.1,207.7 515.2,207.9 515.2,208.1 515.2,208.3 515.3,208.2 515.3,208.0 515.3,207.7 515.3,207.4 515.3,207.0 515.4,206.6 515.4,206.1 515.4,205.5 515.4,205.0 515.4,204.4 515.5,203.8 515.5,203.2 515.5,202.6 515.5,202.0 515.6,201.4 515.6,200.8 515.6,200.3 515.6,199.8 515.6,199.3 515.7,198.9 515.7,198.5 515.7,198.1 515.7,197.8 515.7,197.5 515.8,197.3 515.8,197.1 515.8,197.0 515.8,196.9 515.9,196.9 515.9,197.0 515.9,197.1 515.9,197.3 516.0,197.5 516.0,197.8 516.0,198.1 516.0,198.5 516.0,198.9 516.1,199.3 516.1,199.8 516.1,200.3 516.1,200.8 516.1,201.4 516.2,202.0 516.2,202.6 516.2,203.2 516.2,203.8 516.3,204.3 516.3,204.9 516.3,205.5 516.3,206.0 516.3,206.5 516.4,206.9 516.4,207.3 516.4,207.6 516.4,207.9 516.4,208.1 516.5,208.2 516.5,208.1 516.5,208.0 516.5,207.8 516.6,207.6 516.6,207.2 516.6,206.8 516.6,206.4 516.6,205.9 516.7,205.4 516.7,204.8 516.7,204.2 516.7,203.6 516.8,203.1 516.8,202.5 516.8,201.9 516.8,201.3 516.8,200.8 516.9,200.2 516.9,199.7 516.9,199.3 516.9,198.9 516.9,198.5 517.0,198.1 517.0,197.8 517.0,197.6 517.0,197.4 517.0,197.2 517.1,197.1 517.1,197.0 517.1,197.1 517.2,197.3 517.2,197.4 517.2,197.7 517.2,197.9 517.2,198.3 517.3,198.6 517.3,199.0 517.3,199.5 517.3,199.9 517.4,200.4 517.4,201.0 517.4,201.5 517.4,202.1 517.4,202.7 517.5,203.2 517.5,203.8 517.5,204.4 517.5,204.9 517.5,205.5 517.6,206.0 517.6,206.4 517.6,206.8 517.6,207.2 517.6,207.5 517.7,207.7 517.7,207.9 517.7,208.0 517.7,207.9 517.8,207.8 517.8,207.6 517.8,207.3 517.8,207.0 517.8,206.6 517.9,206.1 517.9,205.7 517.9,205.1 517.9,204.6 517.9,204.0 518.0,203.5 518.0,202.9 518.0,202.3 518.0,201.8 518.0,201.2 518.1,200.7 518.1,200.2 518.1,199.7 518.1,199.3 518.1,198.9 518.2,198.5 518.2,198.2 518.2,197.9 518.2,197.6 518.2,197.4 518.3,197.3 518.3,197.2 518.3,197.1 518.3,197.2 518.4,197.3 518.4,197.4 518.4,197.6 518.4,197.8 518.4,198.1 518.5,198.4 518.5,198.8 518.5,199.2 518.5,199.6 518.5,200.1 518.6,200.6 518.6,201.1 518.6,201.6 518.6,202.2 518.6,202.7 518.7,203.3 518.7,203.9 518.7,204.4 518.7,204.9 518.7,205.4 518.8,205.9 518.8,206.3 518.8,206.7 518.8,207.1 518.8,207.3 518.9,207.5 518.9,207.7 518.9,207.8 518.9,207.7 519.0,207.5 519.0,207.3 519.0,207.0 519.0,206.7 519.0,206.3 519.1,205.9 519.1,205.4 519.1,204.9 519.1,204.4 519.1,203.9 519.2,203.3 519.2,202.8 519.2,202.2 519.2,201.7 519.2,201.1 519.3,200.6 519.3,200.2 519.3,199.7 519.3,199.3 519.3,198.9 519.4,198.5 519.4,198.2 519.4,198.0 519.4,197.7 519.4,197.6 519.5,197.4 519.5,197.3 519.5,197.4 519.6,197.5 519.6,197.6 519.6,197.8 519.6,198.0 519.6,198.3 519.7,198.6 519.7,199.0 519.7,199.4 519.7,199.8 519.7,200.3 519.8,200.7 519.8,201.2 519.8,201.8 519.8,202.3 519.8,202.8 519.9,203.4 519.9,203.9 519.9,204.4 519.9,204.9 519.9,205.4 520.0,205.9 520.0,206.3 520.0,206.6 520.0,206.9 520.0,207.2 520.1,207.4 520.1,207.5 520.1,207.4 520.2,207.3 520.2,207.1 520.2,206.8 520.2,206.5 520.2,206.1 520.2,205.7 520.3,205.2 520.3,204.7 520.3,204.2 520.3,203.7 520.3,203.2 520.4,202.6 520.4,202.1 520.4,201.6 520.4,201.1 520.4,200.6 520.5,200.1 520.5,199.7 520.5,199.3 520.5,198.9 520.5,198.6 520.6,198.3 520.6,198.0 520.6,197.8 520.6,197.7 520.6,197.5 520.7,197.5 520.7,197.4 520.7,197.5 520.7,197.6 520.8,197.8 520.8,198.0 520.8,198.2 520.8,198.5 520.8,198.8 520.8,199.1 520.9,199.5 520.9,200.0 520.9,200.4 520.9,200.9 520.9,201.4 521.0,201.9 521.0,202.4 521.0,202.9 521.0,203.4 521.0,203.9 521.1,204.4 521.1,204.9 521.1,205.4 521.1,205.8 521.1,206.2 521.2,206.5 521.2,206.8 521.2,207.0 521.2,207.2 521.2,207.3 521.3,207.3 521.3,207.2 521.3,207.1 521.3,206.8 521.3,206.6 521.4,206.2 521.4,205.9 521.4,205.5 521.4,205.0 521.4,204.5 521.5,204.0 521.5,203.5 521.5,203.0 521.5,202.5 521.5,202.0 521.6,201.5 521.6,201.0 521.6,200.5 521.6,200.1 521.6,199.7 521.6,199.3 521.7,198.9 521.7,198.6 521.7,198.3 521.7,198.1 521.7,197.9 521.8,197.8 521.8,197.7 521.8,197.6 521.9,197.7 521.9,197.8 521.9,197.9 521.9,198.1 521.9,198.4 522.0,198.6 522.0,199.0 522.0,199.3 522.0,199.7 522.0,200.1 522.0,200.5 522.1,201.0 522.1,201.5 522.1,202.0 522.1,202.5 522.1,203.0 522.2,203.5 522.2,204.0 522.2,204.5 522.2,204.9 522.2,205.3 522.3,205.7 522.3,206.1 522.3,206.4 522.3,206.7 522.3,206.9 522.3,207.0 522.4,207.1 522.4,207.0 522.4,206.8 522.5,206.6 522.5,206.3 522.5,206.0 522.5,205.6 522.5,205.2 522.6,204.8 522.6,204.3 522.6,203.9 522.6,203.4 522.6,202.9 522.6,202.4 522.7,201.9 522.7,201.4 522.7,200.9 522.7,200.5 522.7,200.1 522.8,199.7 522.8,199.3 522.8,199.0 522.8,198.7 522.8,198.4 522.8,198.2 522.9,198.0 522.9,197.9 522.9,197.8 522.9,197.7 523.0,197.7 523.0,197.8 523.0,197.9 523.0,198.1 523.0,198.3 523.1,198.5 523.1,198.8 523.1,199.1 523.1,199.5 523.1,199.8 523.1,200.2 523.2,200.7 523.2,201.1 523.2,201.6 523.2,202.1 523.2,202.5 523.3,203.0 523.3,203.5 523.3,204.0 523.3,204.4 523.3,204.9 523.3,205.3 523.4,205.7 523.4,206.0 523.4,206.3 523.4,206.5 523.4,206.7 523.5,206.8 523.5,206.9 523.5,206.8 523.5,206.6 523.6,206.4 523.6,206.1 523.6,205.8 523.6,205.4 523.6,205.0 523.7,204.6 523.7,204.2 523.7,203.7 523.7,203.2 523.7,202.7 523.7,202.3 523.8,201.8 523.8,201.3 523.8,200.9 523.8,200.5 523.8,200.1 523.9,199.7 523.9,199.3 523.9,199.0 523.9,198.8 523.9,198.5 523.9,198.3 524.0,198.1 524.0,198.0 524.0,197.9 524.1,197.9 524.1,198.0 524.1,198.1 524.1,198.3 524.1,198.5 524.1,198.7 524.2,199.0 524.2,199.3 524.2,199.6 524.2,200.0 524.2,200.4 524.3,200.8 524.3,201.2 524.3,201.7 524.3,202.2 524.3,202.6 524.3,203.1 524.4,203.5 524.4,204.0 524.4,204.4 524.4,204.8 524.4,205.2 524.5,205.6 524.5,205.9 524.5,206.1 524.5,206.4 524.5,206.5 524.5,206.6 524.6,206.7 524.6,206.6 524.6,206.5 524.6,206.3 524.7,206.1 524.7,205.9 524.7,205.5 524.7,205.2 524.7,204.8 524.7,204.4 524.8,204.0 524.8,203.5 524.8,203.1 524.8,202.6 524.8,202.2 524.8,201.7 524.9,201.3 524.9,200.9 524.9,200.4 524.9,200.1 524.9,199.7 525.0,199.4 525.0,199.1 525.0,198.8 525.0,198.6 525.0,198.4 525.0,198.2 525.1,198.1 525.1,198.0 525.1,198.1 525.2,198.2 525.2,198.3 525.2,198.4 525.2,198.6 525.2,198.9 525.2,199.2 525.3,199.5 525.3,199.8 525.3,200.1 525.3,200.5 525.3,200.9 525.3,201.4 525.4,201.8 525.4,202.2 525.4,202.7 525.4,203.1 525.4,203.6 525.5,204.0 525.5,204.4 525.5,204.8 525.5,205.2 525.5,205.5 525.5,205.8 525.6,206.0 525.6,206.2 525.6,206.4 525.6,206.5 525.7,206.4 525.7,206.3 525.7,206.1 525.7,205.9 525.7,205.7 525.8,205.3 525.8,205.0 525.8,204.6 525.8,204.2 525.8,203.8 525.8,203.4 525.9,203.0 525.9,202.5 525.9,202.1 525.9,201.6 525.9,201.2 525.9,200.8 526.0,200.4 526.0,200.1 526.0,199.7 526.0,199.4 526.0,199.1 526.0,198.9 526.1,198.7 526.1,198.5 526.1,198.3 526.1,198.2 526.2,198.1 526.2,198.2 526.2,198.3 526.2,198.4 526.2,198.6 526.3,198.8 526.3,199.0 526.3,199.3 526.3,199.6 526.3,199.9 526.3,200.3 526.4,200.6 526.4,201.0 526.4,201.5 526.4,201.9 526.4,202.3 526.4,202.7 526.5,203.2 526.5,203.6 526.5,204.0 526.5,204.4 526.5,204.8 526.6,205.1 526.6,205.4 526.6,205.7 526.6,205.9 526.6,206.1 526.6,206.3 526.7,206.3 526.7,206.4 526.7,206.3 526.7,206.1 526.7,206.0 526.8,205.8 526.8,205.5 526.8,205.2 526.8,204.8 526.8,204.5 526.8,204.1 526.9,203.7 526.9,203.3 526.9,202.8 526.9,202.4 526.9,202.0 526.9,201.6 527.0,201.2 527.0,200.8 527.0,200.4 527.0,200.0 527.0,199.7 527.1,199.4 527.1,199.1 527.1,198.9 527.1,198.7 527.1,198.5 527.1,198.4 527.2,198.3 527.2,198.2 527.2,198.3 527.2,198.4 527.3,198.5 527.3,198.7 527.3,198.9 527.3,199.1 527.3,199.4 527.3,199.7 527.4,200.0 527.4,200.4 527.4,200.8 527.4,201.1 527.4,201.5 527.4,202.0 527.5,202.4 527.5,202.8 527.5,203.2 527.5,203.7 527.5,204.1 527.5,204.4 527.6,204.8 527.6,205.1 527.6,205.4 527.6,205.7 527.6,205.9 527.6,206.1 527.7,206.2 527.7,206.3 527.7,206.2 527.7,206.0 527.8,205.9 527.8,205.6 527.8,205.4 527.8,205.1 527.8,204.7 527.8,204.4 527.9,204.0 527.9,203.6 527.9,203.2 527.9,202.7 527.9,202.3 528.0,201.9 528.0,201.5 528.0,201.1 528.0,200.7 528.0,200.3 528.0,200.0 528.1,199.7 528.1,199.4 528.1,199.1 528.1,198.9 528.1,198.7 528.1,198.5 528.2,198.4 528.2,198.3 528.3,198.4 528.3,198.6 528.3,198.8 528.3,199.0 528.3,199.2 528.3,199.5 528.4,199.8 528.4,200.1 528.4,200.5 528.4,200.8 528.4,201.2 528.4,201.6 528.5,202.0 528.5,202.5 528.5,202.9 528.5,203.3 528.5,203.7 528.5,204.1 528.6,204.5 528.6,204.9 528.6,205.2 528.6,205.5 528.6,205.7 528.6,205.9 528.7,206.1 528.7,206.2 528.7,206.3 528.7,206.2 528.7,206.1 528.8,206.0 528.8,205.8 528.8,205.6 528.8,205.3 528.8,205.0 528.8,204.7 528.9,204.3 528.9,203.9 528.9,203.5 528.9,203.1 528.9,202.7 528.9,202.2 529.0,201.8 529.0,201.4 529.0,201.0 529.0,200.6 529.0,200.3 529.0,199.9 529.1,199.6 529.1,199.3 529.1,199.1 529.1,198.8 529.1,198.6 529.1,198.5 529.2,198.4 529.2,198.3 529.2,198.2 529.2,198.3 529.2,198.4 529.2,198.5 529.3,198.6 529.3,198.8 529.3,199.0 529.3,199.2 529.3,199.5 529.3,199.8 529.4,200.2 529.4,200.5 529.4,200.9 529.4,201.3 529.4,201.7 529.4,202.1 529.5,202.6 529.5,203.0 529.5,203.4 529.5,203.8 529.5,204.2 529.5,204.6 529.6,204.9 529.6,205.3 529.6,205.5 529.6,205.8 529.6,206.0 529.6,206.1 529.7,206.2 529.7,206.3 529.7,206.2 529.7,206.1 529.7,206.0 529.8,205.8 529.8,205.6 529.8,205.3 529.8,205.0 529.8,204.6 529.8,204.2 529.9,203.8 529.9,203.4 529.9,203.0 529.9,202.6 529.9,202.2 529.9,201.7 530.0,201.3 530.0,200.9 530.0,200.5 530.0,200.2 530.0,199.8 530.0,199.5 530.0,199.2 530.1,199.0 530.1,198.8 530.1,198.6 530.1,198.4 530.1,198.3 530.2,198.2 530.2,198.3 530.2,198.5 530.2,198.6 530.3,198.8 530.3,199.0 530.3,199.3 530.3,199.6 530.3,199.9 530.3,200.2 530.4,200.6 530.4,201.0 530.4,201.4 530.4,201.8 530.4,202.2 530.4,202.6 530.5,203.1 530.5,203.5 530.5,203.9 530.5,204.3 530.5,204.7 530.5,205.0 530.5,205.3 530.6,205.6 530.6,205.9 530.6,206.1 530.6,206.2 530.6,206.3 530.7,206.3 530.7,206.2 530.7,206.0 530.7,205.8 530.7,205.5 530.8,205.2 530.8,204.9 530.8,204.6 530.8,204.2 530.8,203.8 530.8,203.4 530.9,202.9 530.9,202.5 530.9,202.1 530.9,201.6 530.9,201.2 530.9,200.8 530.9,200.5 531.0,200.1 531.0,199.8 531.0,199.4 531.0,199.2 531.0,198.9 531.0,198.7 531.1,198.5 531.1,198.4 531.1,198.3 531.1,198.2 531.2,198.2 531.2,198.3 531.2,198.5 531.2,198.6 531.2,198.8 531.2,199.0 531.2,199.3 531.3,199.6 531.3,199.9 531.3,200.3 531.3,200.7 531.3,201.1 531.3,201.5 531.4,201.9 531.4,202.3 531.4,202.7 531.4,203.2 531.4,203.6 531.4,204.0 531.5,204.4 531.5,204.8 531.5,205.1 531.5,205.4 531.5,205.7 531.5,205.9 531.5,206.1 531.6,206.3 531.6,206.4 531.6,206.3 531.6,206.2 531.7,206.0 531.7,205.8 531.7,205.5 531.7,205.2 531.7,204.9 531.7,204.5 531.8,204.1 531.8,203.7 531.8,203.3 531.8,202.9 531.8,202.4 531.8,202.0 531.8,201.6 531.9,201.1 531.9,200.7 531.9,200.4 531.9,200.0 531.9,199.7 531.9,199.4 532.0,199.1 532.0,198.8 532.0,198.6 532.0,198.5 532.0,198.3 532.0,198.2 532.1,198.2 532.1,198.1 532.1,198.2 532.1,198.3 532.1,198.5 532.1,198.6 532.2,198.8 532.2,199.1 532.2,199.3 532.2,199.6 532.2,200.0 532.2,200.3 532.3,200.7 532.3,201.1 532.3,201.5 532.3,202.0 532.3,202.4 532.3,202.8 532.3,203.3 532.4,203.7 532.4,204.1 532.4,204.5 532.4,204.9 532.4,205.2 532.4,205.5 532.5,205.8 532.5,206.0 532.5,206.2 532.5,206.4 532.5,206.5 532.5,206.4 532.6,206.3 532.6,206.2 532.6,206.0 532.6,205.8 532.6,205.5 532.6,205.2 532.7,204.8 532.7,204.5 532.7,204.1 532.7,203.6 532.7,203.2 532.7,202.8 532.7,202.3 532.8,201.9 532.8,201.5 532.8,201.0 532.8,200.6 532.8,200.3 532.8,199.9 532.9,199.6 532.9,199.3 532.9,199.0 532.9,198.8 532.9,198.6 532.9,198.4 532.9,198.3 533.0,198.2 533.0,198.1 533.0,198.2 533.0,198.3 533.1,198.4 533.1,198.6 533.1,198.8 533.1,199.1 533.1,199.4 533.1,199.7 533.1,200.0 533.2,200.4 533.2,200.8 533.2,201.2 533.2,201.6 533.2,202.1 533.2,202.5 533.3,202.9 533.3,203.4 533.3,203.8 533.3,204.2 533.3,204.6 533.3,205.0 533.3,205.3 533.4,205.6 533.4,205.9 533.4,206.1 533.4,206.3 533.4,206.4 533.4,206.5 533.5,206.5 533.5,206.4 533.5,206.2 533.5,206.0 533.5,205.8 533.5,205.5 533.6,205.2 533.6,204.8 533.6,204.4 533.6,204.0 533.6,203.6 533.6,203.1 533.7,202.7 533.7,202.2 533.7,201.8 533.7,201.4 533.7,201.0 533.7,200.6 533.7,200.2 533.8,199.8 533.8,199.5 533.8,199.2 533.8,198.9 533.8,198.7 533.8,198.5 533.8,198.3 533.9,198.2 533.9,198.1 533.9,198.2 534.0,198.3 534.0,198.4 534.0,198.6 534.0,198.8 534.0,199.1 534.0,199.4 534.0,199.7 534.1,200.1 534.1,200.5 534.1,200.9 534.1,201.3 534.1,201.7 534.1,202.1 534.1,202.6 534.2,203.0 534.2,203.5 534.2,203.9 534.2,204.3 534.2,204.7 534.2,205.1 534.3,205.5 534.3,205.8 534.3,206.0 534.3,206.2 534.3,206.4 534.3,206.5 534.3,206.6 534.4,206.6 534.4,206.5 534.4,206.4 534.4,206.2 534.4,206.0 534.4,205.8 534.4,205.5 534.5,205.1 534.5,204.8 534.5,204.4 534.5,203.9 534.5,203.5 534.5,203.1 534.6,202.6 534.6,202.2 534.6,201.7 534.6,201.3 534.6,200.9 534.6,200.5 534.6,200.1 534.7,199.7 534.7,199.4 534.7,199.1 534.7,198.8 534.7,198.6 534.7,198.4 534.7,198.3 534.8,198.1 534.8,198.0 534.8,198.1 534.8,198.2 534.8,198.3 534.9,198.4 534.9,198.6 534.9,198.9 534.9,199.1 534.9,199.4 534.9,199.8 535.0,200.1 535.0,200.5 535.0,200.9 535.0,201.3 535.0,201.8 535.0,202.2 535.0,202.7 535.1,203.1 535.1,203.6 535.1,204.0 535.1,204.5 535.1,204.8 535.1,205.2 535.1,205.6 535.2,205.9 535.2,206.1 535.2,206.3 535.2,206.5 535.2,206.6 535.3,206.6 535.3,206.4 535.3,206.3 535.3,206.0 535.3,205.8 535.3,205.4 535.3,205.1 535.4,204.7 535.4,204.3 535.4,203.9 535.4,203.4 535.4,203.0 535.4,202.5 535.5,202.1 535.5,201.6 535.5,201.2 535.5,200.8 535.5,200.4 535.5,200.0 535.5,199.6 535.6,199.3 535.6,199.0 535.6,198.8 535.6,198.5 535.6,198.3 535.6,198.2 535.6,198.1 535.7,198.0 535.7,198.1 535.7,198.3 535.7,198.4 535.8,198.6 535.8,198.9 535.8,199.2 535.8,199.5 535.8,199.8 535.8,200.2 535.8,200.6 535.9,201.0 535.9,201.4 535.9,201.9 535.9,202.3 535.9,202.8 535.9,203.2 535.9,203.7 536.0,204.1 536.0,204.6 536.0,205.0 536.0,205.3 536.0,205.7 536.0,206.0 536.0,206.2 536.1,206.4 536.1,206.6 536.1,206.7 536.1,206.6 536.2,206.5 536.2,206.3 536.2,206.0 536.2,205.8 536.2,205.4 536.2,205.1 536.2,204.7 536.3,204.3 536.3,203.8 536.3,203.4 536.3,202.9 536.3,202.4 536.3,202.0 536.3,201.5 536.4,201.1 536.4,200.7 536.4,200.3 536.4,199.9 536.4,199.5 536.4,199.2 536.4,198.9 536.5,198.7 536.5,198.4 536.5,198.3 536.5,198.1 536.5,198.0 536.5,197.9 536.6,198.0 536.6,198.1 536.6,198.3 536.6,198.4 536.6,198.6 536.6,198.9 536.7,199.2 536.7,199.5 536.7,199.9 536.7,200.2 536.7,200.6 536.7,201.1 536.7,201.5 536.8,202.0 536.8,202.4 536.8,202.9 536.8,203.4 536.8,203.8 536.8,204.3 536.8,204.7 536.9,205.1 536.9,205.4 536.9,205.8 536.9,206.1 536.9,206.3 536.9,206.5 536.9,206.6 537.0,206.7 537.0,206.8 537.0,206.7 537.0,206.6 537.0,206.5 537.0,206.3 537.0,206.0 537.1,205.7 537.1,205.4 537.1,205.0 537.1,204.6 537.1,204.2 537.1,203.8 537.1,203.3 537.2,202.8 537.2,202.4 537.2,201.9 537.2,201.4 537.2,201.0 537.2,200.6 537.2,200.2 537.3,199.8 537.3,199.4 537.3,199.1 537.3,198.8 537.3,198.6 537.3,198.4 537.3,198.2 537.4,198.0 537.4,197.9 537.4,198.0 537.4,198.1 537.4,198.2 537.5,198.4 537.5,198.7 537.5,198.9 537.5,199.2 537.5,199.6 537.5,199.9 537.5,200.3 537.6,200.7 537.6,201.1 537.6,201.6 537.6,202.1 537.6,202.5 537.6,203.0 537.6,203.5 537.7,203.9 537.7,204.4 537.7,204.8 537.7,205.2 537.7,205.6 537.7,205.9 537.7,206.2 537.8,206.4 537.8,206.6 537.8,206.7 537.8,206.8 537.8,206.7 537.9,206.5 537.9,206.3 537.9,206.0 537.9,205.7 537.9,205.4 537.9,205.0 537.9,204.6 538.0,204.1 538.0,203.7 538.0,203.2 538.0,202.7 538.0,202.3 538.0,201.8 538.0,201.3 538.1,200.9 538.1,200.5 538.1,200.1 538.1,199.7 538.1,199.3 538.1,199.0 538.1,198.7 538.2,198.5 538.2,198.3 538.2,198.1 538.2,198.0 538.2,197.9 538.2,197.8 538.2,197.9 538.3,197.9 538.3,198.1 538.3,198.2 538.3,198.4 538.3,198.7 538.3,198.9 538.3,199.2 538.4,199.6 538.4,200.0 538.4,200.4 538.4,200.8 538.4,201.2 538.4,201.7 538.4,202.2 538.5,202.6 538.5,203.1 538.5,203.6 538.5,204.1 538.5,204.5 538.5,204.9 538.5,205.3 538.6,205.7 538.6,206.0 538.6,206.3 538.6,206.5 538.6,206.7 538.6,206.8 538.6,206.9 538.7,206.8 538.7,206.7 538.7,206.5 538.7,206.3 538.7,206.0 538.7,205.7 538.7,205.4 538.8,205.0 538.8,204.5 538.8,204.1 538.8,203.6 538.8,203.1 538.8,202.7 538.8,202.2 538.9,201.7 538.9,201.2 538.9,200.8 538.9,200.4 538.9,200.0 538.9,199.6 538.9,199.2 539.0,198.9 539.0,198.6 539.0,198.4 539.0,198.2 539.0,198.0 539.0,197.9 539.0,197.8 539.1,197.8 539.1,197.9 539.1,198.0 539.1,198.2 539.1,198.4 539.1,198.7 539.2,199.0 539.2,199.3 539.2,199.6 539.2,200.0 539.2,200.4 539.2,200.9 539.2,201.3 539.3,201.8 539.3,202.3 539.3,202.7 539.3,203.2 539.3,203.7 539.3,204.2 539.3,204.6 539.3,205.1 539.4,205.5 539.4,205.8 539.4,206.1 539.4,206.4 539.4,206.6 539.4,206.8 539.4,206.9 539.5,207.0 539.5,206.9 539.5,206.8 539.5,206.6 539.5,206.3 539.5,206.0 539.6,205.7 539.6,205.3 539.6,204.9 539.6,204.5 539.6,204.0 539.6,203.5 539.6,203.1 539.6,202.6 539.7,202.1 539.7,201.6 539.7,201.1 539.7,200.7 539.7,200.3 539.7,199.9 539.7,199.5 539.8,199.1 539.8,198.8 539.8,198.5 539.8,198.3 539.8,198.1 539.8,197.9 539.8,197.8 539.9,197.8 539.9,197.7 539.9,197.8 539.9,197.9 539.9,198.0 539.9,198.2 539.9,198.4 540.0,198.7 540.0,199.0 540.0,199.3 540.0,199.7 540.0,200.1 540.0,200.5 540.0,200.9 540.1,201.4 540.1,201.9 540.1,202.4 540.1,202.9 540.1,203.3 540.1,203.8 540.1,204.3 540.1,204.8 540.2,205.2 540.2,205.6 540.2,205.9 540.2,206.3"/>
<path stroke="#0F76CC" stroke-width="1.25" d="M95.5,229.0 132.7,208.9 154.4,196.6 169.9,187.4 181.8,180.0 191.6,173.6 199.9,167.9 207.0,163.0 213.3,158.6 219.0,154.8 224.1,151.3 228.8,148.1 233.0,145.1 237.0,142.3 240.7,139.7 244.2,137.3 247.4,135.0 250.5,132.8 253.4,130.7 256.1,128.7 258.8,126.9 261.2,125.1 263.6,123.4 265.9,121.8 268.1,120.3 270.2,118.9 272.2,117.6 274.2,116.3 276.1,115.2 277.9,114.0 279.6,113.0 281.3,112.0 283.0,111.0 284.6,110.2 286.1,109.3 287.7,108.6 289.1,107.9 290.5,107.2 291.9,106.5 293.3,105.9 294.6,105.3 295.9,104.7 297.2,104.1 298.4,103.6 299.6,103.2 300.8,102.9 301.9,102.5 303.1,102.2 304.2,101.9 305.3,101.6 306.3,101.3 307.4,101.1 308.4,100.8 309.4,100.6 310.4,100.4 311.3,100.2 312.3,100.1 313.2,99.9 314.1,99.8 315.0,99.7 315.9,99.7 316.8,99.6 317.7,99.6 318.5,99.6 319.3,99.7 320.1,99.8 321.0,100.0 321.7,100.2 322.5,100.5 323.3,100.8 324.1,101.1 324.8,101.4 325.6,101.8 326.3,102.2 327.0,102.6 327.7,103.0 328.4,103.5 329.1,103.9 329.8,104.3 330.5,104.8 331.1,105.3 331.8,105.7 332.4,106.2 333.1,106.7 333.7,107.1 334.3,107.6 335.0,108.0 335.6,108.5 336.2,108.9 336.8,109.4 337.4,109.8 338.0,110.2 338.5,110.6 339.1,111.0 339.7,111.4 340.2,111.8 340.8,112.1 341.3,112.5 341.9,112.8 342.4,113.1 343.0,113.5 343.5,113.7 344.0,114.0 344.5,114.3 345.0,114.5 345.5,114.8 346.1,115.0 346.6,115.2 347.0,115.4 347.5,115.5 348.0,115.7 348.5,115.8 349.0,115.9 349.5,116.0 349.9,116.1 350.4,116.2 350.8,116.2 351.3,116.3 351.8,116.3 352.2,116.2 352.6,116.2 353.1,116.1 353.5,116.0 354.0,115.8 354.4,115.6 354.8,115.4 355.2,115.2 355.7,114.9 356.1,114.6 356.5,114.3 356.9,114.0 357.3,113.6 357.7,113.3 358.1,112.9 358.5,112.5 358.9,112.1 359.3,111.7 359.7,111.3 360.1,110.9 360.5,110.5 360.8,110.0 361.2,109.6 361.6,109.2 362.0,108.7 362.3,108.3 362.7,107.8 363.1,107.4 363.4,107.0 363.8,106.6 364.2,106.1 364.5,105.7 364.9,105.3 365.2,104.9 365.6,104.5 365.9,104.1 366.3,103.7 366.6,103.4 366.9,103.0 367.3,102.7 367.6,102.3 368.0,102.0 368.3,101.7 368.6,101.4 368.9,101.1 369.3,100.8 369.6,100.5 369.9,100.3 370.2,100.1 370.6,99.8 370.9,99.6 371.2,99.4 371.5,99.3 371.8,99.1 372.1,99.0 372.4,98.8 372.7,98.7 373.0,98.6 373.3,98.6 373.6,98.5 373.9,98.5 374.2,98.5 374.5,98.5 374.8,98.5 375.1,98.5 375.4,98.6 375.7,98.7 376.0,98.8 376.3,98.9 376.6,99.0 376.8,99.1 377.1,99.3 377.4,99.5 377.7,99.6 378.0,99.8 378.2,100.0 378.5,100.2 378.8,100.5 379.0,100.7 379.3,100.9 379.6,101.1 379.9,101.4 380.1,101.6 380.4,101.9 380.6,102.1 380.9,102.4 381.2,102.6 381.4,102.8 381.7,103.1 381.9,103.3 382.2,103.6 382.5,103.8 382.7,104.1 383.0,104.3 383.2,104.5 383.5,104.8 383.7,105.0 384.0,105.2 384.2,105.4 384.5,105.6 384.7,105.9 384.9,106.0 385.2,106.2 385.4,106.4 385.7,106.6 385.9,106.7 386.1,106.9 386.4,107.0 386.6,107.2 386.8,107.3 387.1,107.4 387.3,107.5 387.5,107.6 387.8,107.7 388.0,107.8 388.2,107.8 388.5,107.9 388.7,107.9 388.9,107.9 389.1,107.9 389.4,107.9 389.6,107.9 389.8,107.9 390.0,107.8 390.2,107.8 390.5,107.7 390.7,107.6 390.9,107.6 391.1,107.5 391.3,107.4 391.6,107.2 391.8,107.1 392.0,107.0 392.2,106.8 392.4,106.7 392.6,106.6 392.8,106.4 393.0,106.2 393.2,106.1 393.4,105.9 393.7,105.7 393.9,105.6 394.1,105.4 394.3,105.2 394.5,105.0 394.7,104.9 394.9,104.7 395.1,104.5 395.3,104.3 395.5,104.1 395.7,104.0 395.9,103.8 396.1,103.6 396.3,103.4 396.5,103.3 396.7,103.1 396.9,102.9 397.0,102.8 397.2,102.6 397.4,102.4 397.6,102.3 397.8,102.1 398.0,102.0 398.2,101.8 398.4,101.7 398.6,101.6 398.8,101.5 399.0,101.3 399.1,101.2 399.3,101.1 399.5,101.0 399.7,100.9 399.9,100.8 400.1,100.8 400.2,100.7 400.4,100.6 400.6,100.6 400.8,100.5 401.0,100.5 401.1,100.5 401.3,100.4 401.5,100.4 401.7,100.4 401.9,100.4 402.0,100.4 402.2,100.5 402.4,100.5 402.6,100.6 402.7,100.6 402.9,100.7 403.1,100.8 403.3,100.9 403.4,101.0 403.6,101.1 403.8,101.2 403.9,101.4 404.1,101.5 404.3,101.6 404.5,101.8 404.6,101.9 404.8,102.1 405.0,102.2 405.1,102.4 405.3,102.5 405.5,102.7 405.6,102.9 405.8,103.0 405.9,103.2 406.1,103.3 406.3,103.5 406.4,103.7 406.6,103.8 406.8,104.0 406.9,104.1 407.1,104.3 407.2,104.4 407.4,104.6 407.6,104.7 407.7,104.8 407.9,105.0 408.0,105.1 408.2,105.2 408.4,105.3 408.5,105.4 408.7,105.5 408.8,105.6 409.0,105.7 409.1,105.8 409.3,105.9 409.4,105.9 409.6,106.0 409.7,106.0 409.9,106.0 410.0,106.1 410.2,106.1 410.4,106.1 410.5,106.1 410.7,106.1 410.8,106.1 411.0,106.0 411.1,106.0 411.2,105.9 411.4,105.8 411.5,105.8 411.7,105.7 411.8,105.6 412.0,105.5 412.1,105.4 412.3,105.3 412.4,105.2 412.6,105.0 412.7,104.9 412.9,104.8 413.0,104.6 413.1,104.5 413.3,104.4 413.4,104.2 413.6,104.1 413.7,103.9 413.9,103.8 414.0,103.6 414.1,103.4 414.3,103.3 414.4,103.1 414.6,103.0 414.7,102.8 414.8,102.7 415.0,102.5 415.1,102.4 415.3,102.2 415.4,102.1 415.5,101.9 415.7,101.8 415.8,101.6 415.9,101.5 416.1,101.4 416.2,101.3 416.3,101.1 416.5,101.0 416.6,100.9 416.8,100.8 416.9,100.7 417.0,100.6 417.2,100.5 417.3,100.4 417.4,100.4 417.5,100.3 417.7,100.2 417.8,100.2 417.9,100.1 418.1,100.1 418.2,100.1 418.3,100.0 418.5,100.0 418.6,100.0 418.7,100.0 418.9,100.0 419.0,100.0 419.1,100.1 419.2,100.1 419.4,100.1 419.5,100.2 419.6,100.2 419.7,100.3 419.9,100.3 420.0,100.4 420.1,100.5 420.3,100.5 420.4,100.6 420.5,100.7 420.6,100.8 420.8,100.8 420.9,100.9 421.0,101.0 421.1,101.1 421.2,101.2 421.4,101.3 421.5,101.4 421.6,101.5 421.7,101.6 421.9,101.7 422.0,101.8 422.1,101.9 422.2,102.0 422.3,102.1 422.5,102.2 422.6,102.3 422.7,102.4 422.8,102.5 422.9,102.6 423.1,102.7 423.2,102.8 423.3,102.9 423.4,103.0 423.5,103.1 423.7,103.2 423.8,103.3 423.9,103.4 424.0,103.4 424.1,103.5 424.2,103.6 424.4,103.7 424.5,103.8 424.6,103.8 424.7,103.9 424.8,104.0 424.9,104.1 425.1,104.1 425.2,104.2 425.3,104.2 425.4,104.3 425.5,104.3 425.6,104.4 425.7,104.4 425.9,104.4 426.0,104.5 426.1,104.5 426.2,104.5 426.3,104.5 426.4,104.5 426.5,104.5 426.6,104.5 426.7,104.5 426.9,104.5 427.0,104.5 427.1,104.4 427.2,104.4 427.3,104.3 427.4,104.3 427.5,104.2 427.6,104.1 427.7,104.0 427.8,104.0 428.0,103.9 428.1,103.8 428.2,103.7 428.3,103.6 428.4,103.5 428.5,103.4 428.6,103.2 428.7,103.1 428.8,103.0 428.9,102.9 429.0,102.7 429.1,102.6 429.2,102.5 429.4,102.3 429.5,102.2 429.6,102.1 429.7,101.9 429.8,101.8 429.9,101.6 430.0,101.5 430.1,101.4 430.2,101.2 430.3,101.1 430.4,100.9 430.5,100.8 430.6,100.7 430.7,100.5 430.8,100.4 430.9,100.2 431.0,100.1 431.1,100.0 431.2,99.8 431.3,99.7 431.4,99.6 431.5,99.5 431.6,99.3 431.7,99.2 431.8,99.1 431.9,99.0 432.0,98.9 432.1,98.8 432.2,98.7 432.3,98.6 432.4,98.5 432.5,98.4 432.6,98.3 432.7,98.2 432.8,98.2 432.9,98.1 433.0,98.0 433.1,98.0 433.2,97.9 433.3,97.9 433.4,97.8 433.5,97.8 433.6,97.8 433.7,97.7 433.8,97.7 433.9,97.7 434.0,97.7 434.1,97.7 434.2,97.7 434.3,97.7 434.4,97.8 434.5,97.8 434.6,97.8 434.7,97.8 434.8,97.9 434.9,97.9 435.0,98.0 435.1,98.0 435.2,98.1 435.3,98.1 435.4,98.2 435.5,98.2 435.5,98.3 435.6,98.4 435.7,98.4 435.8,98.5 435.9,98.6 436.0,98.7 436.1,98.7 436.2,98.8 436.3,98.9 436.4,99.0 436.5,99.1 436.6,99.2 436.7,99.2 436.8,99.3 436.9,99.4 436.9,99.5 437.0,99.6 437.1,99.7 437.2,99.8 437.3,99.8 437.4,99.9 437.5,100.0 437.6,100.1 437.7,100.2 437.8,100.3 437.9,100.4 438.0,100.5 438.1,100.6 438.2,100.7 438.3,100.8 438.4,100.8 438.5,100.9 438.6,101.0 438.7,101.0 438.8,101.1 438.8,101.2 438.9,101.2 439.0,101.3 439.1,101.4 439.2,101.4 439.3,101.5 439.4,101.5 439.5,101.6 439.6,101.6 439.7,101.7 439.8,101.7 439.9,101.7 440.0,101.7 440.1,101.8 440.2,101.8 440.3,101.8 440.4,101.8 440.5,101.8 440.6,101.8 440.7,101.8 440.8,101.7 440.9,101.7 441.0,101.6 441.1,101.6 441.2,101.5 441.3,101.5 441.4,101.4 441.4,101.3 441.5,101.3 441.6,101.2 441.7,101.1 441.8,101.0 441.9,101.0 441.9,100.9 442.0,100.8 442.1,100.7 442.2,100.6 442.3,100.5 442.4,100.4 442.4,100.3 442.5,100.2 442.6,100.1 442.7,100.0 442.8,99.9 442.9,99.7 442.9,99.6 443.0,99.5 443.1,99.4 443.2,99.3 443.3,99.2 443.4,99.1 443.4,99.0 443.5,98.9 443.6,98.8 443.7,98.7 443.8,98.6 443.8,98.5 443.9,98.4 444.0,98.3 444.1,98.2 444.2,98.1 444.2,98.0 444.3,97.9 444.4,97.8 444.5,97.7 444.6,97.7 444.6,97.6 444.7,97.5 444.8,97.4 444.9,97.4 445.0,97.3 445.1,97.2 445.2,97.2 445.3,97.1 445.4,97.1 445.5,97.0 445.6,97.0 445.7,97.0 445.8,97.0 445.9,97.0 446.0,97.0 446.1,97.0 446.2,97.1 446.3,97.1 446.4,97.1 446.4,97.2 446.5,97.2 446.6,97.3 446.7,97.4 446.8,97.4 446.8,97.5 446.9,97.6 447.0,97.6 447.1,97.7 447.1,97.8 447.2,97.9 447.3,97.9 447.4,98.0 447.4,98.1 447.5,98.2 447.6,98.3 447.7,98.4 447.7,98.5 447.8,98.6 447.9,98.7 448.0,98.8 448.1,98.9 448.2,99.0 448.3,99.1 448.3,99.2 448.4,99.3 448.5,99.4 448.6,99.5 448.7,99.6 448.8,99.7 448.9,99.8 449.0,99.9 449.1,100.0 449.2,100.1 449.3,100.1 449.4,100.2 449.5,100.3 449.6,100.3 449.7,100.3 449.7,100.4 449.8,100.4 449.9,100.4 450.0,100.4 450.1,100.4 450.2,100.4 450.3,100.3 450.4,100.3 450.5,100.2 450.6,100.1 450.7,100.0 450.7,99.9 450.8,99.8 450.9,99.7 451.0,99.6 451.0,99.5 451.1,99.4 451.2,99.3 451.2,99.2 451.3,99.1 451.4,98.9 451.4,98.8 451.5,98.7 451.6,98.5 451.7,98.4 451.7,98.3 451.8,98.2 451.9,98.0 451.9,97.9 452.0,97.8 452.1,97.7 452.1,97.6 452.2,97.4 452.3,97.3 452.3,97.2 452.4,97.1 452.5,97.0 452.6,96.9 452.7,96.8 452.8,96.7 452.9,96.6 453.0,96.5 453.1,96.5 453.2,96.5 453.3,96.5 453.4,96.5 453.5,96.5 453.6,96.5 453.6,96.6 453.7,96.6 453.8,96.6 453.8,96.7 453.9,96.7 454.0,96.8 454.0,96.9 454.1,96.9 454.2,97.0 454.2,97.1 454.3,97.1 454.4,97.2 454.4,97.3 454.5,97.4 454.6,97.5 454.6,97.6 454.7,97.7 454.8,97.8 454.8,97.9 454.9,98.0 455.0,98.0 455.0,98.1 455.1,98.2 455.2,98.3 455.2,98.4 455.3,98.5 455.4,98.6 455.4,98.7 455.5,98.8 455.6,98.9 455.6,99.0 455.7,99.1 455.8,99.2 455.8,99.3 455.9,99.4 456.0,99.5 456.0,99.6 456.1,99.7 456.2,99.8 456.3,99.9 456.3,100.0 456.4,100.0 456.5,100.1 456.6,100.2 456.7,100.2 456.7,100.3 456.8,100.3 456.8,100.4 456.9,100.4 457.0,100.4 457.0,100.5 457.1,100.5 457.2,100.5 457.3,100.5 457.4,100.5 457.5,100.4 457.6,100.4 457.7,100.3 457.8,100.2 457.9,100.2 457.9,100.1 458.0,100.0 458.0,99.9 458.1,99.9 458.2,99.8 458.2,99.7 458.3,99.6 458.3,99.5 458.4,99.4 458.5,99.3 458.5,99.2 458.6,99.1 458.7,99.0 458.7,98.9 458.8,98.8 458.8,98.7 458.9,98.6 459.0,98.5 459.0,98.4 459.1,98.3 459.1,98.2 459.2,98.0 459.3,97.9 459.3,97.8 459.4,97.7 459.4,97.6 459.5,97.5 459.6,97.4 459.6,97.3 459.7,97.2 459.7,97.1 459.8,97.0 459.9,96.9 459.9,96.8 460.0,96.8 460.0,96.7 460.1,96.6 460.2,96.5 460.3,96.4 460.3,96.3 460.4,96.3 460.5,96.2 460.6,96.1 460.7,96.1 460.8,96.1 460.8,96.0 460.9,96.0 461.0,96.0 461.1,96.0 461.1,96.1 461.2,96.1 461.3,96.1 461.3,96.2 461.4,96.2 461.5,96.3 461.6,96.4 461.6,96.5 461.7,96.5 461.8,96.6 461.8,96.7 461.9,96.8 461.9,96.9 462.0,96.9 462.0,97.0 462.1,97.1 462.2,97.2 462.2,97.3 462.3,97.4 462.3,97.5 462.4,97.6 462.4,97.7 462.5,97.8 462.6,97.9 462.6,98.0 462.7,98.1 462.7,98.2 462.8,98.3 462.8,98.4 462.9,98.5 463.0,98.6 463.0,98.7 463.1,98.8 463.1,98.9 463.2,99.0 463.2,99.1 463.3,99.2 463.4,99.3 463.4,99.4 463.5,99.5 463.6,99.6 463.6,99.7 463.7,99.7 463.7,99.8 463.8,99.9 463.9,99.9 463.9,100.0 464.0,100.0 464.0,100.1 464.1,100.1 464.2,100.2 464.3,100.2 464.4,100.2 464.5,100.2 464.6,100.2 464.6,100.1 464.7,100.1 464.8,100.0 464.9,99.9 465.0,99.9 465.0,99.8 465.1,99.7 465.1,99.6 465.2,99.6 465.2,99.5 465.3,99.4 465.3,99.3 465.4,99.2 465.4,99.1 465.5,99.0 465.6,98.9 465.6,98.8 465.7,98.7 465.7,98.6 465.8,98.5 465.8,98.4 465.9,98.3 465.9,98.2 466.0,98.1 466.0,98.0 466.1,97.9 466.1,97.8 466.2,97.6 466.2,97.5 466.3,97.4 466.4,97.3 466.4,97.2 466.5,97.1 466.5,97.0 466.6,96.9 466.6,96.8 466.7,96.7 466.8,96.6 466.8,96.5 466.9,96.4 466.9,96.3 467.0,96.3 467.0,96.2 467.1,96.1 467.2,96.0 467.3,96.0 467.3,95.9 467.4,95.9 467.5,95.8 467.6,95.8 467.7,95.8 467.8,95.8 467.9,95.9 468.0,95.9 468.0,96.0 468.1,96.0 468.1,96.1 468.2,96.1 468.2,96.2 468.3,96.3 468.4,96.4 468.4,96.5 468.5,96.6 468.6,96.7 468.6,96.8 468.7,96.9 468.7,97.0 468.8,97.1 468.8,97.2 468.9,97.3 468.9,97.4 469.0,97.5 469.1,97.6 469.1,97.7 469.2,97.8 469.2,97.9 469.3,98.0 469.3,98.1 469.4,98.2 469.4,98.3 469.5,98.4 469.5,98.5 469.6,98.6 469.6,98.7 469.7,98.8 469.7,98.9 469.8,99.0 469.9,99.1 469.9,99.2 470.0,99.3 470.0,99.4 470.1,99.4 470.1,99.5 470.2,99.5 470.2,99.6 470.2,99.7 470.3,99.7 470.3,99.8 470.4,99.8 470.5,99.9 470.6,99.9 470.7,99.9 470.8,99.9 470.9,99.9 470.9,99.8 471.0,99.8 471.1,99.7 471.2,99.6 471.3,99.5 471.3,99.4 471.4,99.3 471.5,99.2 471.5,99.1 471.6,99.0 471.6,98.9 471.7,98.8 471.7,98.7 471.8,98.6 471.8,98.5 471.9,98.4 471.9,98.3 472.0,98.2 472.0,98.1 472.0,98.0 472.1,97.9 472.1,97.8 472.2,97.7 472.2,97.6 472.3,97.5 472.3,97.4 472.4,97.3 472.4,97.2 472.5,97.1 472.5,97.0 472.6,96.9 472.6,96.8 472.7,96.7 472.7,96.6 472.8,96.5 472.8,96.4 472.9,96.3 472.9,96.2 473.0,96.1 473.0,96.0 473.1,96.0 473.1,95.9 473.2,95.9 473.2,95.8 473.3,95.8 473.3,95.7 473.4,95.7 473.5,95.6 473.6,95.6 473.7,95.6 473.8,95.7 473.9,95.7 474.0,95.8 474.1,95.9 474.1,96.0 474.2,96.0 474.2,96.1 474.2,96.2 474.3,96.2 474.3,96.3 474.4,96.4 474.4,96.5 474.5,96.6 474.6,96.7 474.6,96.8 474.7,96.9 474.7,97.0 474.7,97.1 474.8,97.2 474.8,97.3 474.9,97.4 474.9,97.5 475.0,97.6 475.0,97.7 475.1,97.8 475.1,97.9 475.2,98.0 475.2,98.1 475.2,98.2 475.3,98.3 475.3,98.4 475.4,98.5 475.4,98.6 475.5,98.7 475.6,98.8 475.6,98.9 475.7,99.0 475.7,99.1 475.8,99.2 475.8,99.3 475.9,99.3 475.9,99.4 476.0,99.4 476.0,99.5 476.1,99.5 476.1,99.6 476.2,99.6 476.3,99.6 476.4,99.6 476.5,99.6 476.6,99.6 476.6,99.5 476.7,99.5 476.7,99.4 476.8,99.4 476.8,99.3 476.9,99.2 476.9,99.1 477.0,99.1 477.0,99.0 477.1,98.9 477.1,98.8 477.1,98.7 477.2,98.6 477.2,98.5 477.3,98.5 477.3,98.4 477.4,98.3 477.4,98.2 477.5,98.1 477.5,98.0 477.5,97.9 477.6,97.8 477.6,97.6 477.7,97.5 477.7,97.4 477.8,97.3 477.8,97.2 477.8,97.1 477.9,97.0 477.9,96.9 478.0,96.8 478.0,96.7 478.1,96.6 478.1,96.5 478.2,96.4 478.2,96.3 478.3,96.2 478.3,96.1 478.4,96.0 478.4,95.9 478.5,95.8 478.6,95.7 478.6,95.6 478.7,95.6 478.7,95.5 478.8,95.5 478.9,95.5 478.9,95.4 479.0,95.4 479.1,95.5 479.2,95.5 479.2,95.6 479.3,95.6 479.4,95.7 479.4,95.8 479.5,95.9 479.6,96.0 479.6,96.1 479.7,96.1 479.7,96.2 479.7,96.3 479.8,96.4 479.8,96.5 479.9,96.6 479.9,96.7 480.0,96.8 480.0,96.9 480.1,97.0 480.1,97.1 480.1,97.2 480.2,97.3 480.2,97.4 480.3,97.5 480.3,97.6 480.4,97.7 480.4,97.8 480.4,97.9 480.5,98.0 480.5,98.1 480.6,98.2 480.6,98.3 480.7,98.4 480.7,98.5 480.8,98.6 480.8,98.7 480.9,98.8 480.9,98.9 481.0,98.9 481.0,99.0 481.0,99.1 481.1,99.1 481.1,99.2 481.2,99.2 481.2,99.3 481.3,99.3 481.4,99.3 481.4,99.4 481.5,99.4 481.6,99.3 481.7,99.3 481.7,99.2 481.8,99.2 481.8,99.1 481.9,99.0 482.0,98.9 482.0,98.8 482.1,98.7 482.1,98.6 482.2,98.5 482.2,98.4 482.2,98.3 482.3,98.3 482.3,98.2 482.4,98.1 482.4,98.0 482.4,97.9 482.5,97.8 482.5,97.7 482.6,97.6 482.6,97.5 482.6,97.4 482.7,97.3 482.7,97.2 482.8,97.1 482.8,97.0 482.8,96.9 482.9,96.8 482.9,96.7 482.9,96.6 483.0,96.5 483.0,96.4 483.1,96.3 483.1,96.2 483.1,96.1 483.2,96.1 483.2,96.0 483.3,95.9 483.3,95.8 483.4,95.7 483.4,95.6 483.5,95.6 483.5,95.5 483.6,95.4 483.7,95.3 483.8,95.3 483.9,95.3 484.0,95.3 484.1,95.4 484.2,95.5 484.3,95.6 484.3,95.7 484.4,95.8 484.4,95.9 484.5,96.0 484.5,96.1 484.6,96.1 484.6,96.2 484.6,96.3 484.7,96.4 484.7,96.5 484.8,96.6 484.8,96.7 484.8,96.8 484.9,96.9 484.9,97.0 485.0,97.1 485.0,97.2 485.1,97.3 485.1,97.4 485.1,97.5 485.2,97.6 485.2,97.7 485.2,97.8 485.3,97.9 485.3,98.0 485.4,98.1 485.4,98.2 485.5,98.3 485.5,98.4 485.6,98.5 485.6,98.6 485.6,98.7 485.7,98.7 485.7,98.8 485.8,98.8 485.8,98.9 485.9,99.0 486.0,99.1 486.1,99.1 486.2,99.1 486.3,99.1 486.3,99.0 486.4,99.0 486.4,98.9 486.5,98.9 486.5,98.8 486.6,98.7 486.6,98.6 486.7,98.5 486.7,98.4 486.8,98.3 486.8,98.2 486.9,98.1 486.9,98.0 486.9,97.9 487.0,97.8 487.0,97.7 487.0,97.6 487.1,97.6 487.1,97.5 487.1,97.4 487.2,97.3 487.2,97.2 487.3,97.1 487.3,97.0 487.3,96.9 487.4,96.8 487.4,96.7 487.4,96.6 487.5,96.5 487.5,96.4 487.5,96.3 487.6,96.2 487.6,96.1 487.7,96.0 487.7,95.9 487.8,95.8 487.8,95.7 487.9,95.6 487.9,95.5 488.0,95.5 488.0,95.4 488.1,95.3 488.1,95.2 488.2,95.2 488.3,95.2 488.4,95.2 488.5,95.2 488.5,95.3 488.6,95.3 488.6,95.4 488.7,95.5 488.7,95.6 488.8,95.6 488.8,95.7 488.9,95.8 488.9,95.9 489.0,96.0 489.0,96.1 489.0,96.2 489.1,96.2 489.1,96.3 489.1,96.4 489.2,96.5 489.2,96.6 489.2,96.7 489.3,96.8 489.3,96.9 489.3,97.0 489.4,97.0 489.4,97.1 489.4,97.2 489.5,97.3 489.5,97.4 489.5,97.5 489.6,97.6 489.6,97.7 489.6,97.8 489.7,97.9 489.8,98.0 489.8,98.1 489.8,98.2 489.9,98.2 489.9,98.3 489.9,98.4 490.0,98.5 490.0,98.6 490.1,98.6 490.1,98.7 490.2,98.8 490.3,98.9 490.4,98.9 490.5,98.9 490.6,98.9 490.6,98.8 490.7,98.8 490.7,98.7 490.8,98.6 490.8,98.5 490.9,98.5 490.9,98.4 490.9,98.3 491.0,98.3 491.0,98.2 491.0,98.1 491.1,98.0 491.1,97.9 491.2,97.8 491.2,97.7 491.2,97.6 491.3,97.5 491.3,97.4 491.3,97.3 491.4,97.3 491.4,97.2 491.4,97.1 491.5,97.0 491.5,96.9 491.5,96.8 491.6,96.7 491.6,96.6 491.6,96.5 491.7,96.4 491.7,96.3 491.8,96.2 491.8,96.1 491.8,96.0 491.9,96.0 491.9,95.9 491.9,95.8 492.0,95.7 492.0,95.6 492.1,95.6 492.1,95.5 492.2,95.4 492.2,95.3 492.3,95.3 492.4,95.2 492.5,95.2 492.6,95.3 492.7,95.3 492.7,95.4 492.8,95.5 492.8,95.6 492.9,95.6 492.9,95.7 493.0,95.8 493.0,95.9 493.0,96.0 493.1,96.1 493.1,96.2 493.1,96.3 493.2,96.4 493.2,96.5 493.3,96.6 493.3,96.7 493.3,96.8 493.4,96.9 493.4,97.0 493.4,97.1 493.5,97.1 493.5,97.2 493.5,97.3 493.6,97.4 493.6,97.5 493.6,97.6 493.7,97.7 493.7,97.8 493.8,97.9 493.8,98.0 493.8,98.1 493.9,98.2 493.9,98.3 494.0,98.4 494.0,98.5 494.1,98.6 494.1,98.7 494.2,98.7 494.2,98.8 494.3,98.8 494.4,98.8 494.5,98.8 494.6,98.8 494.6,98.7 494.7,98.6 494.7,98.5 494.8,98.5 494.8,98.4 494.9,98.3 494.9,98.2 495.0,98.1 495.0,98.0 495.0,97.9 495.1,97.8 495.1,97.7 495.1,97.6 495.2,97.6 495.2,97.5 495.2,97.4 495.3,97.3 495.3,97.2 495.3,97.1 495.4,97.0 495.4,96.9 495.4,96.8 495.5,96.7 495.5,96.6 495.5,96.5 495.6,96.4 495.6,96.3 495.7,96.2 495.7,96.1 495.7,96.0 495.8,96.0 495.8,95.9 495.8,95.8 495.9,95.7 495.9,95.6 496.0,95.6 496.0,95.5 496.1,95.4 496.2,95.4 496.2,95.3 496.3,95.3 496.4,95.3 496.4,95.4 496.5,95.4 496.5,95.5 496.6,95.6 496.6,95.7 496.7,95.7 496.7,95.8 496.8,95.9 496.8,96.0 496.9,96.1 496.9,96.2 496.9,96.3 497.0,96.4 497.0,96.5 497.0,96.6 497.1,96.7 497.1,96.8 497.2,96.9 497.2,97.0 497.2,97.1 497.2,97.2 497.3,97.2 497.3,97.3 497.3,97.4 497.4,97.5 497.4,97.6 497.4,97.7 497.5,97.8 497.5,97.9 497.5,98.0 497.6,98.0 497.6,98.1 497.6,98.2 497.7,98.2 497.7,98.3 497.7,98.4 497.8,98.5 497.9,98.6 498.0,98.7 498.1,98.7 498.2,98.7 498.3,98.6 498.4,98.5 498.4,98.4 498.5,98.4 498.5,98.3 498.5,98.2 498.6,98.2 498.6,98.1 498.6,98.0 498.7,98.0 498.7,97.9 498.7,97.8 498.7,97.7 498.8,97.7 498.8,97.6 498.8,97.5 498.9,97.4 498.9,97.3 498.9,97.2 499.0,97.1 499.0,97.0 499.0,96.9 499.1,96.8 499.1,96.7 499.1,96.6 499.2,96.5 499.2,96.4 499.3,96.3 499.3,96.2 499.3,96.1 499.4,96.0 499.4,95.9 499.5,95.8 499.5,95.7 499.6,95.6 499.6,95.5 499.7,95.5 499.7,95.4 499.8,95.4 499.9,95.4 500.0,95.4 500.0,95.5 500.1,95.5 500.1,95.6 500.2,95.7 500.2,95.8 500.3,95.9 500.3,96.0 500.4,96.1 500.4,96.2 500.5,96.3 500.5,96.4 500.5,96.5 500.6,96.6 500.6,96.7 500.6,96.8 500.7,96.9 500.7,97.0 500.7,97.1 500.8,97.2 500.8,97.3 500.8,97.4 500.9,97.5 500.9,97.6 501.0,97.7 501.0,97.8 501.0,97.9 501.1,98.0 501.1,98.1 501.2,98.2 501.2,98.3 501.3,98.4 501.3,98.5 501.4,98.5 501.4,98.6 501.5,98.6 501.6,98.6 501.7,98.6 501.7,98.5 501.8,98.5 501.8,98.4 501.9,98.3 501.9,98.2 502.0,98.2 502.0,98.1 502.0,98.0 502.1,97.9 502.1,97.8 502.1,97.7 502.2,97.6 502.2,97.5 502.3,97.4 502.3,97.3 502.3,97.2 502.4,97.1 502.4,97.0 502.4,96.9 502.5,96.8 502.5,96.7 502.6,96.6 502.6,96.5 502.6,96.4 502.7,96.3 502.7,96.2 502.7,96.1 502.8,96.1 502.8,96.0 502.8,95.9 502.9,95.9 502.9,95.8 503.0,95.7 503.0,95.6 503.1,95.6 503.1,95.5 503.2,95.5 503.3,95.5 503.3,95.6 503.4,95.6 503.4,95.7 503.5,95.7 503.5,95.8 503.5,95.9 503.6,95.9 503.6,96.0 503.7,96.1 503.7,96.2 503.7,96.3 503.8,96.3 503.8,96.4 503.8,96.5 503.9,96.6 503.9,96.7 503.9,96.8 504.0,96.9 504.0,97.0 504.0,97.1 504.1,97.2 504.1,97.3 504.2,97.4 504.2,97.5 504.2,97.6 504.3,97.6 504.3,97.7 504.3,97.8 504.4,97.9 504.4,98.0 504.4,98.1 504.5,98.1 504.5,98.2 504.6,98.3 504.6,98.4 504.7,98.4 504.8,98.4 504.8,98.5 504.9,98.4 505.0,98.4 505.0,98.3 505.1,98.3 505.1,98.2 505.1,98.1 505.2,98.1 505.2,98.0 505.2,97.9 505.3,97.9 505.3,97.8 505.3,97.7 505.4,97.6 505.4,97.5 505.4,97.4 505.5,97.4 505.5,97.3 505.5,97.2 505.6,97.2 505.6,97.1 505.6,97.0 505.6,96.9 505.7,96.9 505.7,96.8 505.7,96.7 505.8,96.6 505.8,96.5 505.8,96.4 505.9,96.4 505.9,96.3 505.9,96.2 506.0,96.1 506.0,96.0 506.1,95.9 506.1,95.8 506.2,95.8 506.2,95.7 506.3,95.7 506.4,95.7 506.5,95.7 506.5,95.8 506.6,95.8 506.6,95.9 506.7,95.9 506.7,96.0 506.7,96.1 506.8,96.1 506.8,96.2 506.8,96.3 506.9,96.3 506.9,96.4 506.9,96.5 507.0,96.6 507.0,96.7 507.0,96.8 507.1,96.8 507.1,96.9 507.1,97.0 507.2,97.1 507.2,97.2 507.2,97.3 507.3,97.3 507.3,97.4 507.3,97.5 507.4,97.6 507.4,97.7 507.5,97.8 507.5,97.9 507.6,98.0 507.6,98.1 507.7,98.1 507.7,98.2 507.8,98.2 507.8,98.3 507.9,98.3 508.0,98.3 508.0,98.2 508.1,98.2 508.1,98.1 508.1,98.0 508.2,98.0 508.2,97.9 508.3,97.8 508.3,97.7 508.4,97.6 508.4,97.5 508.4,97.4 508.5,97.4 508.5,97.3 508.5,97.2 508.6,97.1 508.6,97.0 508.7,96.9 508.7,96.8 508.7,96.7 508.8,96.7 508.8,96.6 508.8,96.5 508.8,96.4 508.9,96.4 508.9,96.3 508.9,96.2 509.0,96.2 509.0,96.1 509.0,96.0 509.1,96.0 509.1,95.9 509.2,95.9 509.2,95.8 509.3,95.8 509.4,95.8 509.5,95.8 509.5,95.9 509.6,95.9 509.6,96.0 509.7,96.1 509.7,96.2 509.8,96.2 509.8,96.3 509.8,96.4 509.9,96.4 509.9,96.5 509.9,96.6 509.9,96.7 510.0,96.7 510.0,96.8 510.0,96.9 510.1,96.9 510.1,97.0 510.1,97.1 510.2,97.2 510.2,97.3 510.3,97.4 510.3,97.5 510.3,97.6 510.4,97.6 510.4,97.7 510.4,97.8 510.5,97.8 510.5,97.9 510.6,98.0 510.7,98.1 510.8,98.1 510.9,98.1 510.9,98.0 511.0,98.0 511.0,97.9 511.1,97.8 511.1,97.7 511.2,97.7 511.2,97.6 511.2,97.5 511.3,97.4 511.3,97.3 511.4,97.2 511.4,97.1 511.5,97.0 511.5,96.9 511.5,96.8 511.6,96.7 511.6,96.6 511.7,96.5 511.7,96.4 511.8,96.3 511.8,96.2 511.8,96.1 511.9,96.1 511.9,96.0 512.0,96.0 512.0,95.9 512.1,95.9 512.1,95.8 512.2,95.8 512.3,95.9 512.4,95.9 512.4,96.0 512.5,96.1 512.5,96.2 512.6,96.3 512.6,96.4 512.7,96.5 512.7,96.6 512.7,96.7 512.8,96.7 512.8,96.8 512.8,96.9 512.9,96.9 512.9,97.0 512.9,97.1 513.0,97.2 513.0,97.3 513.1,97.4 513.1,97.5 513.2,97.6 513.2,97.7 513.3,97.7 513.3,97.8 513.4,97.9 513.5,97.9 513.6,97.9 513.7,97.9 513.7,97.8 513.8,97.7 513.8,97.6 513.9,97.6 513.9,97.5 513.9,97.4 514.0,97.4 514.0,97.3 514.0,97.2 514.1,97.2 514.1,97.1 514.1,97.0 514.2,97.0 514.2,96.9 514.2,96.8 514.3,96.7 514.3,96.6 514.4,96.5 514.4,96.4 514.4,96.3 514.5,96.3 514.5,96.2 514.5,96.1 514.6,96.1 514.6,96.0 514.7,96.0 514.7,95.9 514.8,95.9 514.9,95.9 515.0,95.9 515.0,96.0 515.1,96.0 515.1,96.1 515.2,96.1 515.2,96.2 515.2,96.3 515.3,96.3 515.3,96.4 515.3,96.5 515.4,96.5 515.4,96.6 515.4,96.7 515.5,96.8 515.5,96.9 515.6,96.9 515.6,97.0 515.6,97.1 515.7,97.2 515.7,97.3 515.8,97.4 515.8,97.5 515.9,97.5 515.9,97.6 516.0,97.7 516.1,97.7 516.1,97.8 516.2,97.8 516.2,97.7 516.3,97.7 516.3,97.6 516.4,97.6 516.4,97.5 516.5,97.5 516.5,97.4 516.5,97.3 516.6,97.3 516.6,97.2 516.6,97.1 516.7,97.0 516.7,96.9 516.8,96.9 516.8,96.8 516.8,96.7 516.9,96.6 516.9,96.5 517.0,96.4 517.0,96.3 517.1,96.2 517.1,96.1 517.2,96.1 517.2,96.0 517.3,95.9 517.4,95.9 517.5,95.9 517.6,96.0 517.6,96.1 517.7,96.1 517.7,96.2 517.8,96.2 517.8,96.3 517.8,96.4 517.9,96.4 517.9,96.5 517.9,96.6 518.0,96.6 518.0,96.7 518.0,96.8 518.1,96.8 518.1,96.9 518.1,97.0 518.2,97.0 518.2,97.1 518.2,97.2 518.3,97.2 518.3,97.3 518.4,97.4 518.4,97.5 518.5,97.5 518.5,97.6 518.6,97.6 518.7,97.6 518.7,97.5 518.8,97.5 518.8,97.4 518.9,97.4 518.9,97.3 519.0,97.3 519.0,97.2 519.0,97.1 519.1,97.1 519.1,97.0 519.1,96.9 519.2,96.9 519.2,96.8 519.2,96.7 519.3,96.7 519.3,96.6 519.3,96.5 519.4,96.5 519.4,96.4 519.4,96.3 519.5,96.3 519.5,96.2 519.6,96.1 519.6,96.0 519.7,96.0 519.7,95.9 519.8,95.9 519.9,95.9 520.0,95.9 520.0,96.0 520.1,96.0 520.1,96.1 520.2,96.2 520.2,96.3 520.3,96.4 520.3,96.5 520.4,96.5 520.4,96.6 520.4,96.7 520.5,96.7 520.5,96.8 520.5,96.9 520.6,96.9 520.6,97.0 520.7,97.1 520.7,97.2 520.8,97.2 520.8,97.3 520.9,97.3 520.9,97.4 521.0,97.4 521.1,97.4 521.2,97.3 521.2,97.2 521.3,97.2 521.3,97.1 521.4,97.1 521.4,97.0 521.4,96.9 521.5,96.9 521.5,96.8 521.5,96.7 521.6,96.7 521.6,96.6 521.6,96.5 521.7,96.5 521.7,96.4 521.7,96.3 521.8,96.3 521.8,96.2 521.9,96.1 521.9,96.0 522.0,96.0 522.0,95.9 522.1,95.9 522.2,95.9 522.3,95.9 522.4,95.9 522.4,96.0 522.5,96.0 522.5,96.1 522.6,96.2 522.6,96.3 522.7,96.3 522.7,96.4 522.7,96.5 522.8,96.5 522.8,96.6 522.9,96.7 522.9,96.8 523.0,96.8 523.0,96.9 523.1,96.9 523.1,97.0 523.2,97.0 523.2,97.1 523.3,97.1 523.4,97.1 523.4,97.0 523.5,97.0 523.5,96.9 523.6,96.9 523.6,96.8 523.6,96.7 523.7,96.7 523.7,96.6 523.7,96.5 523.8,96.5 523.8,96.4 523.9,96.3 523.9,96.2 523.9,96.1 524.0,96.1 524.0,96.0 524.1,95.9 524.1,95.8 524.2,95.8 524.2,95.7 524.3,95.7 524.3,95.6 524.4,95.6 524.5,95.6 524.6,95.7 524.7,95.7 524.7,95.8 524.8,95.9 524.8,96.0 524.9,96.0 524.9,96.1 525.0,96.1 525.0,96.2 525.1,96.3 525.1,96.4 525.2,96.4 525.2,96.5 525.3,96.5 525.3,96.6 525.4,96.6 525.5,96.6 525.6,96.6 525.6,96.5 525.7,96.5 525.7,96.4 525.8,96.4 525.8,96.3 525.9,96.3 525.9,96.2 525.9,96.1 526.0,96.1 526.0,96.0 526.0,95.9 526.1,95.9 526.1,95.8 526.2,95.7 526.2,95.6 526.3,95.6 526.3,95.5 526.3,95.4 526.4,95.4 526.5,95.3 526.6,95.3 526.7,95.3 526.7,95.4 526.8,95.4 526.8,95.5 526.9,95.5 526.9,95.6 527.0,95.7 527.0,95.8 527.1,95.8 527.1,95.9 527.2,95.9 527.2,96.0 527.3,96.1 527.3,96.2 527.4,96.2 527.5,96.3 527.6,96.3 527.7,96.3 527.7,96.2 527.8,96.2 527.8,96.1 527.9,96.1 527.9,96.0 528.0,96.0 528.0,95.9 528.1,95.8 528.1,95.7 528.2,95.7 528.2,95.6 528.2,95.5 528.3,95.5 528.3,95.4 528.4,95.4 528.4,95.3 528.5,95.3 528.5,95.2 528.6,95.2 528.7,95.2 528.8,95.2 528.8,95.3 528.9,95.3 528.9,95.4 529.0,95.4 529.0,95.5 529.0,95.6 529.1,95.6 529.1,95.7 529.2,95.7 529.2,95.8 529.3,95.9 529.3,96.0 529.4,96.0 529.5,96.1 529.6,96.1 529.7,96.1 529.8,96.1 529.8,96.0 529.9,96.0 529.9,95.9 530.0,95.8 530.0,95.7 530.1,95.7 530.1,95.6 530.2,95.6 530.2,95.5 530.2,95.4 530.3,95.4 530.3,95.3 530.4,95.3 530.4,95.2 530.5,95.2 530.6,95.2 530.7,95.2 530.8,95.2 530.8,95.3 530.9,95.3 530.9,95.4 531.0,95.5 531.0,95.6 531.1,95.6 531.1,95.7 531.2,95.7 531.2,95.8 531.2,95.9 531.3,95.9 531.3,96.0 531.4,96.0 531.4,96.1 531.5,96.1 531.6,96.1 531.7,96.1 531.8,96.1 531.8,96.0 531.9,96.0 531.9,95.9 532.0,95.9 532.1,95.8 532.2,95.8 532.2,95.7 532.3,95.7 532.3,95.6 532.4,95.6 532.5,95.6 532.6,95.6 532.6,95.7 532.7,95.7 532.7,95.8 532.8,95.8 532.8,95.9 532.8,96.0 532.9,96.0 532.9,96.1 532.9,96.2 533.0,96.2 533.0,96.3 533.0,96.4 533.1,96.4 533.1,96.5 533.1,96.6 533.2,96.6 533.2,96.7 533.3,96.7 533.3,96.8 533.4,96.8 533.4,96.9 533.5,96.9 533.6,96.8 533.7,96.8 533.8,96.8 533.8,96.7 533.9,96.7 534.0,96.7 534.0,96.6 534.1,96.6 534.2,96.6 534.2,96.5 534.3,96.5 534.4,96.5 534.5,96.6 534.6,96.7 534.6,96.8 534.7,96.8 534.7,96.9 534.7,97.0 534.8,97.0 534.8,97.1 534.8,97.2 534.9,97.2 534.9,97.3 535.0,97.4 535.0,97.5 535.1,97.5 535.1,97.6 535.2,97.6 535.2,97.7 535.3,97.7 535.4,97.7 535.4,97.6 535.5,97.6 535.6,97.6 535.6,97.5 535.7,97.5 535.8,97.5 535.8,97.4 535.9,97.4 536.0,97.4 536.0,97.3 536.1,97.3 536.2,97.3 536.2,97.4 536.3,97.4 536.3,97.5 536.4,97.5 536.4,97.6 536.5,97.7 536.5,97.8 536.6,97.8 536.6,97.9 536.6,98.0 536.7,98.0 536.7,98.1 536.7,98.2 536.8,98.2 536.8,98.3 536.9,98.4 537.0,98.4 537.0,98.5 537.1,98.5 537.2,98.4 537.3,98.4 537.4,98.4 537.4,98.3 537.5,98.3 537.6,98.3 537.6,98.2 537.7,98.2 537.8,98.2 537.9,98.2 538.0,98.2 538.0,98.3 538.1,98.3 538.1,98.4 538.1,98.5 538.2,98.5 538.2,98.6 538.2,98.7 538.3,98.7 538.3,98.8 538.4,98.9 538.4,99.0 538.5,99.1 538.5,99.2 538.6,99.2 538.6,99.3 538.7,99.3 538.8,99.3 538.9,99.3 539.0,99.3 539.0,99.2 539.1,99.2 539.2,99.2 539.3,99.2 539.3,99.1 539.4,99.1 539.5,99.1 539.6,99.1 539.6,99.2 539.7,99.2 539.7,99.3 539.8,99.3 539.8,99.4 539.9,99.4 539.9,99.5 539.9,99.6 540.0,99.6 540.0,99.7 540.0,99.8 540.1,99.8 540.1,99.9 540.2,100.0"/>
<path stroke="#FF0A0A" stroke-width="1.2" d="M95.5,195.8 132.7,172.2 154.4,156.8 169.9,145.0 181.8,135.6 191.6,127.6 199.9,120.8 207.0,114.9 213.3,109.7 219.0,105.1 224.1,101.0 228.8,97.3 233.0,94.0 237.0,91.0 240.7,88.4 244.2,86.0 247.4,83.8 250.5,81.9 253.4,80.1 256.1,78.6 258.8,77.2 261.2,76.0 263.6,75.0 265.9,74.1 268.1,73.4 270.2,72.8 272.2,72.3 274.2,72.0 276.1,71.8 277.9,71.8 279.6,71.9 281.3,72.1 283.0,72.4 284.6,72.9 286.1,73.5 287.7,74.3 289.1,75.2 290.5,76.2 291.9,77.4 293.3,78.8 294.6,80.3 295.9,82.0 297.2,83.9 298.4,85.9 299.6,88.2 300.8,90.7 301.9,93.4 303.1,96.3 304.2,99.5 305.3,103.0 306.3,106.7 307.4,110.7 308.4,115.0 309.4,119.5 310.4,124.1 311.3,128.7 312.3,133.0 313.2,136.5 314.1,138.8 315.0,139.5 315.9,138.4 316.8,135.7 317.7,132.0 318.5,127.7 319.3,123.1 320.1,118.6 321.0,114.1 321.7,110.0 322.5,106.1 323.3,102.5 324.1,99.1 324.8,96.0 325.6,93.2 326.3,90.6 327.0,88.2 327.7,86.1 328.4,84.1 329.1,82.3 329.8,80.7 330.5,79.3 331.1,78.0 331.8,76.9 332.4,75.9 333.1,75.1 333.7,74.4 334.3,73.9 335.0,73.5 335.6,73.2 336.2,73.1 336.8,73.0 337.4,73.2 338.0,73.4 338.5,73.8 339.1,74.3 339.7,75.0 340.2,75.7 340.8,76.7 341.3,77.7 341.9,78.9 342.4,80.3 343.0,81.8 343.5,83.5 344.0,85.3 344.5,87.4 345.0,89.6 345.5,91.9 346.1,94.5 346.6,97.2 347.0,100.2 347.5,103.3 348.0,106.5 348.5,109.9 349.0,113.3 349.5,116.7 349.9,120.0 350.4,122.8 350.8,125.1 351.3,126.6 351.8,127.1 352.2,126.6 352.6,125.2 353.1,122.9 353.5,120.1 354.0,116.9 354.4,113.5 354.8,110.1 355.2,106.7 355.7,103.5 356.1,100.4 356.5,97.5 356.9,94.8 357.3,92.3 357.7,89.9 358.1,87.8 358.5,85.8 358.9,84.0 359.3,82.3 359.7,80.9 360.1,79.5 360.5,78.4 360.8,77.3 361.2,76.5 361.6,75.7 362.0,75.1 362.3,74.7 362.7,74.3 363.1,74.1 363.4,74.1 363.8,74.1 364.2,74.3 364.5,74.6 364.9,75.1 365.2,75.6 365.6,76.3 365.9,77.2 366.3,78.2 366.6,79.3 366.9,80.5 367.3,81.9 367.6,83.5 368.0,85.2 368.3,87.0 368.6,89.0 368.9,91.1 369.3,93.4 369.6,95.9 369.9,98.4 370.2,101.1 370.6,103.8 370.9,106.6 371.2,109.4 371.5,112.1 371.8,114.5 372.1,116.7 372.4,118.4 372.7,119.5 373.0,119.9 373.3,119.6 373.6,118.6 373.9,117.1 374.2,115.1 374.5,112.7 374.8,110.1 375.1,107.5 375.4,104.7 375.7,102.1 376.0,99.5 376.3,97.0 376.6,94.6 376.8,92.4 377.1,90.3 377.4,88.3 377.7,86.5 378.0,84.8 378.2,83.3 378.5,81.9 378.8,80.7 379.0,79.5 379.3,78.6 379.6,77.7 379.9,76.9 380.1,76.3 380.4,75.8 380.6,75.4 380.9,75.2 381.2,75.0 381.4,75.0 381.7,75.0 381.9,75.2 382.2,75.5 382.5,76.0 382.7,76.5 383.0,77.1 383.2,77.9 383.5,78.8 383.7,79.8 384.0,80.9 384.2,82.2 384.5,83.5 384.7,85.0 384.9,86.6 385.2,88.4 385.4,90.2 385.7,92.2 385.9,94.3 386.1,96.5 386.4,98.7 386.6,101.0 386.8,103.4 387.1,105.6 387.3,107.8 387.5,109.9 387.8,111.7 388.0,113.1 388.2,114.2 388.5,114.7 388.7,114.7 388.9,114.2 389.1,113.2 389.4,111.8 389.6,110.0 389.8,108.0 390.0,105.8 390.2,103.5 390.5,101.2 390.7,98.9 390.9,96.7 391.1,94.5 391.3,92.4 391.6,90.4 391.8,88.6 392.0,86.8 392.2,85.2 392.4,83.8 392.6,82.4 392.8,81.2 393.0,80.1 393.2,79.1 393.4,78.3 393.7,77.6 393.9,77.0 394.1,76.5 394.3,76.2 394.5,75.9 394.7,75.8 394.9,75.8 395.1,75.9 395.3,76.1 395.5,76.5 395.7,76.9 395.9,77.5 396.1,78.2 396.3,79.0 396.5,79.9 396.7,81.0 396.9,82.1 397.0,83.4 397.2,84.8 397.4,86.3 397.6,88.0 397.8,89.7 398.0,91.5 398.2,93.4 398.4,95.4 398.6,97.4 398.8,99.5 399.0,101.5 399.1,103.5 399.3,105.4 399.5,107.1 399.7,108.6 399.9,109.8 400.1,110.6 400.2,111.1 400.4,111.1 400.6,110.7 400.8,109.8 401.0,108.7 401.1,107.2 401.3,105.6 401.5,103.8 401.7,101.8 401.9,99.9 402.0,97.9 402.2,95.9 402.4,94.0 402.6,92.2 402.7,90.4 402.9,88.8 403.1,87.2 403.3,85.8 403.4,84.4 403.6,83.2 403.8,82.0 403.9,81.0 404.1,80.1 404.3,79.3 404.5,78.5 404.6,77.9 404.8,77.4 405.0,77.1 405.1,76.8 405.3,76.6 405.5,76.5 405.6,76.5 405.8,76.6 405.9,76.8 406.1,77.2 406.3,77.6 406.4,78.1 406.6,78.8 406.8,79.5 406.9,80.3 407.1,81.3 407.2,82.3 407.4,83.5 407.6,84.7 407.7,86.0 407.9,87.5 408.0,89.0 408.2,90.6 408.4,92.3 408.5,94.0 408.7,95.8 408.8,97.6 409.0,99.4 409.1,101.1 409.3,102.8 409.4,104.3 409.6,105.7 409.7,106.8 409.9,107.6 410.0,108.1 410.2,108.2 410.4,108.0 410.5,107.4 410.7,106.5 410.8,105.3 411.0,103.9 411.1,102.3 411.2,100.6 411.4,98.8 411.5,97.0 411.7,95.1 411.8,93.3 412.0,91.6 412.1,89.9 412.3,88.3 412.4,86.8 412.6,85.4 412.7,84.1 412.9,82.9 413.0,81.8 413.1,80.8 413.3,79.9 413.4,79.2 413.6,78.6 413.7,78.0 413.9,77.6 414.0,77.3 414.1,77.2 414.3,77.1 414.4,77.2 414.6,77.3 414.7,77.6 414.8,78.0 415.0,78.5 415.1,79.1 415.3,79.8 415.4,80.7 415.5,81.6 415.7,82.6 415.8,83.8 415.9,85.1 416.1,86.4 416.2,87.8 416.3,89.4 416.5,91.0 416.6,92.6 416.8,94.3 416.9,96.0 417.0,97.7 417.2,99.3 417.3,100.9 417.4,102.3 417.5,103.5 417.7,104.6 417.8,105.4 417.9,105.9 418.1,106.1 418.2,105.9 418.3,105.5 418.5,104.8 418.6,103.8 418.7,102.6 418.9,101.3 419.0,99.8 419.1,98.2 419.2,96.6 419.4,95.0 419.5,93.4 419.6,91.9 419.7,90.3 419.9,88.9 420.0,87.5 420.1,86.2 420.3,85.0 420.4,83.8 420.5,82.8 420.6,81.8 420.8,81.0 420.9,80.2 421.0,79.6 421.1,79.0 421.2,78.6 421.4,78.2 421.5,77.9 421.6,77.8 421.7,77.7 421.9,77.7 422.0,77.8 422.1,78.1 422.2,78.4 422.3,78.8 422.5,79.3 422.6,79.9 422.7,80.5 422.8,81.3 422.9,82.2 423.1,83.1 423.2,84.2 423.3,85.3 423.4,86.5 423.5,87.7 423.7,89.1 423.8,90.5 423.9,91.9 424.0,93.4 424.1,94.8 424.2,96.3 424.4,97.7 424.5,99.1 424.6,100.4 424.7,101.5 424.8,102.5 424.9,103.3 425.1,103.9 425.2,104.2 425.3,104.3 425.4,104.1 425.5,103.6 425.6,102.9 425.7,102.0 425.9,101.0 426.0,99.8 426.1,98.4 426.2,97.0 426.3,95.6 426.4,94.2 426.5,92.7 426.6,91.3 426.7,89.9 426.9,88.5 427.0,87.3 427.1,86.1 427.2,84.9 427.3,83.9 427.4,82.9 427.5,82.1 427.6,81.3 427.7,80.6 427.8,80.0 428.0,79.4 428.1,79.0 428.2,78.7 428.3,78.5 428.4,78.3 428.5,78.3 428.6,78.3 428.7,78.4 428.8,78.7 428.9,79.0 429.0,79.4 429.1,79.9 429.2,80.5 429.4,81.1 429.5,81.9 429.6,82.7 429.7,83.7 429.8,84.7 429.9,85.8 430.0,86.9 430.1,88.1 430.2,89.4 430.3,90.7 430.4,92.0 430.5,93.4 430.6,94.8 430.7,96.1 430.8,97.4 430.9,98.6 431.0,99.7 431.1,100.7 431.2,101.5 431.3,102.2 431.4,102.6 431.5,102.8 431.6,102.8 431.7,102.5 431.8,102.0 431.9,101.4 432.0,100.5 432.1,99.5 432.2,98.4 432.3,97.2 432.4,95.9 432.5,94.5 432.6,93.2 432.7,91.9 432.8,90.6 432.9,89.3 433.0,88.1 433.1,86.9 433.2,85.8 433.3,84.7 433.4,83.8 433.5,82.9 433.6,82.1 433.7,81.4 433.8,80.7 433.9,80.2 434.0,79.7 434.1,79.4 434.2,79.1 434.3,78.9 434.4,78.8 434.5,78.8 434.6,78.8 434.7,79.0 434.8,79.2 434.9,79.6 435.0,80.0 435.1,80.5 435.2,81.1 435.3,81.8 435.4,82.5 435.5,83.3 435.5,84.2 435.6,85.2 435.7,86.3 435.8,87.4 435.9,88.5 436.0,89.7 436.1,91.0 436.2,92.2 436.3,93.5 436.4,94.7 436.5,95.9 436.6,97.1 436.7,98.1 436.8,99.1 436.9,100.0 436.9,100.6 437.0,101.1 437.1,101.5 437.2,101.6 437.3,101.5 437.4,101.2 437.5,100.7 437.6,100.0 437.7,99.2 437.8,98.2 437.9,97.2 437.9,96.0 438.0,94.8 438.1,93.6 438.2,92.4 438.3,91.2 438.4,89.9 438.5,88.8 438.6,87.6 438.7,86.6 438.8,85.5 438.8,84.6 438.9,83.7 439.0,82.9 439.1,82.2 439.2,81.5 439.3,80.9 439.4,80.5 439.5,80.0 439.6,79.7 439.6,79.5 439.7,79.3 439.8,79.3 439.9,79.3 440.0,79.4 440.1,79.6 440.2,79.8 440.2,80.2 440.3,80.6 440.4,81.1 440.5,81.7 440.6,82.4 440.7,83.1 440.8,83.9 440.8,84.8 440.9,85.7 441.0,86.7 441.1,87.8 441.2,88.9 441.3,90.0 441.4,91.1 441.4,92.3 441.5,93.4 441.6,94.5 441.7,95.6 441.8,96.6 441.9,97.5 441.9,98.3 442.0,99.0 442.1,99.6 442.2,99.9 442.3,100.1 442.4,100.2 442.4,100.0 442.5,99.7 442.6,99.2 442.7,98.5 442.8,97.7 442.9,96.9 442.9,95.9 443.0,94.9 443.1,93.8 443.2,92.7 443.3,91.6 443.4,90.5 443.4,89.4 443.5,88.3 443.6,87.3 443.7,86.3 443.8,85.4 443.8,84.6 443.9,83.8 444.0,83.1 444.1,82.4 444.2,81.8 444.2,81.3 444.3,80.9 444.4,80.6 444.5,80.3 444.6,80.1 444.6,80.0 444.7,80.0 444.8,80.0 444.9,80.1 445.0,80.3 445.0,80.6 445.1,81.0 445.2,81.4 445.3,81.9 445.4,82.5 445.4,83.1 445.5,83.8 445.6,84.6 445.7,85.4 445.7,86.3 445.8,87.2 445.9,88.1 446.0,89.1 446.1,90.1 446.1,91.1 446.2,92.1 446.3,93.1 446.4,94.1 446.4,95.0 446.5,95.8 446.6,96.6 446.7,97.2 446.8,97.7 446.8,98.1 446.9,98.4 447.0,98.5 447.1,98.5 447.1,98.3 447.2,97.9 447.3,97.5 447.4,96.9 447.4,96.2 447.5,95.4 447.6,94.5 447.7,93.6 447.7,92.7 447.8,91.7 447.9,90.8 448.0,89.8 448.0,88.8 448.1,87.9 448.2,87.0 448.3,86.2 448.3,85.4 448.4,84.7 448.5,84.0 448.6,83.3 448.6,82.8 448.7,82.3 448.8,81.9 448.9,81.5 448.9,81.2 449.0,81.0 449.1,80.9 449.1,80.8 449.2,80.8 449.3,80.9 449.4,81.0 449.4,81.2 449.5,81.5 449.6,81.8 449.7,82.3 449.7,82.7 449.8,83.3 449.9,83.9 449.9,84.5 450.0,85.2 450.1,85.9 450.2,86.7 450.2,87.5 450.3,88.4 450.4,89.2 450.5,90.1 450.5,91.0 450.6,91.8 450.7,92.7 450.7,93.5 450.8,94.2 450.9,94.9 451.0,95.5 451.0,95.9 451.1,96.3 451.2,96.6 451.2,96.8 451.3,96.8 451.4,96.7 451.4,96.5 451.5,96.2 451.6,95.8 451.7,95.3 451.7,94.7 451.8,94.0 451.9,93.3 451.9,92.5 452.0,91.7 452.1,90.9 452.1,90.0 452.2,89.2 452.3,88.4 452.3,87.6 452.4,86.9 452.5,86.1 452.6,85.5 452.6,84.8 452.7,84.3 452.8,83.7 452.8,83.3 452.9,82.8 453.0,82.5 453.0,82.2 453.1,82.0 453.2,81.8 453.2,81.7 453.3,81.7 453.4,81.7 453.4,81.8 453.5,81.9 453.6,82.1 453.6,82.4 453.7,82.7 453.8,83.1 453.8,83.6 453.9,84.0 454.0,84.6 454.0,85.2 454.1,85.8 454.2,86.4 454.2,87.1 454.3,87.8 454.4,88.6 454.4,89.3 454.5,90.0 454.6,90.8 454.6,91.5 454.7,92.1 454.8,92.8 454.8,93.4 454.9,93.9 455.0,94.3 455.0,94.7 455.1,95.0 455.2,95.2 455.2,95.3 455.3,95.2 455.4,95.1 455.4,94.9 455.5,94.7 455.6,94.3 455.6,93.8 455.7,93.3 455.8,92.7 455.8,92.1 455.9,91.5 456.0,90.8 456.0,90.1 456.1,89.4 456.1,88.7 456.2,88.1 456.3,87.4 456.3,86.8 456.4,86.2 456.5,85.6 456.5,85.1 456.6,84.6 456.7,84.2 456.7,83.8 456.8,83.4 456.8,83.2 456.9,82.9 457.0,82.7 457.0,82.6 457.1,82.5 457.2,82.5 457.2,82.6 457.3,82.7 457.4,82.8 457.4,83.0 457.5,83.3 457.5,83.6 457.6,83.9 457.7,84.3 457.7,84.8 457.8,85.2 457.9,85.8 457.9,86.3 458.0,86.9 458.0,87.4 458.1,88.0 458.2,88.7 458.2,89.3 458.3,89.9 458.3,90.5 458.4,91.0 458.5,91.6 458.5,92.1 458.6,92.5 458.7,92.9 458.7,93.3 458.8,93.5 458.8,93.7 458.9,93.9 459.0,93.9 459.1,93.8 459.1,93.6 459.2,93.3 459.3,93.0 459.3,92.6 459.4,92.2 459.4,91.7 459.5,91.2 459.6,90.7 459.6,90.1 459.7,89.6 459.7,89.0 459.8,88.4 459.9,87.8 459.9,87.3 460.0,86.7 460.0,86.2 460.1,85.7 460.2,85.3 460.2,84.9 460.3,84.5 460.3,84.2 460.4,83.9 460.5,83.6 460.5,83.4 460.6,83.3 460.6,83.2 460.7,83.1 460.8,83.1 460.8,83.2 460.9,83.3 460.9,83.4 461.0,83.6 461.1,83.8 461.1,84.1 461.2,84.4 461.2,84.8 461.3,85.2 461.3,85.7 461.4,86.1 461.5,86.6 461.5,87.1 461.6,87.7 461.6,88.2 461.7,88.8 461.8,89.3 461.8,89.9 461.9,90.4 461.9,90.9 462.0,91.4 462.0,91.8 462.1,92.2 462.2,92.6 462.2,92.9 462.3,93.1 462.3,93.3 462.4,93.4 462.5,93.3 462.6,93.2 462.6,93.0 462.7,92.8 462.7,92.5 462.8,92.1 462.8,91.7 462.9,91.3 463.0,90.8 463.0,90.3 463.1,89.8 463.1,89.2 463.2,88.7 463.2,88.2 463.3,87.6 463.4,87.1 463.4,86.6 463.5,86.1 463.5,85.7 463.6,85.3 463.6,84.9 463.7,84.6 463.7,84.3 463.8,84.0 463.9,83.8 463.9,83.6 464.0,83.5 464.0,83.4 464.1,83.4 464.2,83.5 464.2,83.6 464.3,83.7 464.4,83.9 464.4,84.2 464.5,84.4 464.5,84.8 464.6,85.1 464.6,85.5 464.7,85.9 464.7,86.4 464.8,86.9 464.8,87.3 464.9,87.9 465.0,88.4 465.0,88.9 465.1,89.4 465.1,89.9 465.2,90.4 465.2,90.9 465.3,91.3 465.3,91.7 465.4,92.1 465.4,92.4 465.5,92.6 465.6,92.8 465.6,93.0 465.7,93.0 465.8,93.0 465.8,92.8 465.9,92.7 465.9,92.4 466.0,92.1 466.0,91.7 466.1,91.4 466.1,90.9 466.2,90.5 466.2,90.0 466.3,89.5 466.4,89.0 466.4,88.5 466.5,88.0 466.5,87.5 466.6,87.0 466.6,86.5 466.7,86.1 466.7,85.6 466.8,85.3 466.8,84.9 466.9,84.6 466.9,84.3 467.0,84.1 467.0,83.9 467.1,83.7 467.1,83.6 467.2,83.6 467.3,83.5 467.3,83.6 467.4,83.6 467.4,83.8 467.5,83.9 467.5,84.1 467.6,84.4 467.6,84.7 467.7,85.0 467.7,85.3 467.8,85.7 467.8,86.1 467.9,86.6 467.9,87.0 468.0,87.5 468.0,88.0 468.1,88.5 468.1,89.0 468.2,89.5 468.2,90.0 468.3,90.5 468.3,90.9 468.4,91.3 468.4,91.7 468.5,92.1 468.5,92.3 468.6,92.6 468.6,92.7 468.7,92.8 468.7,92.9 468.8,92.9 468.8,92.8 468.9,92.6 468.9,92.4 469.0,92.2 469.1,91.9 469.1,91.5 469.2,91.1 469.2,90.7 469.3,90.2 469.3,89.7 469.4,89.3 469.4,88.8 469.5,88.3 469.5,87.8 469.6,87.3 469.6,86.8 469.7,86.4 469.7,85.9 469.8,85.5 469.8,85.2 469.9,84.8 469.9,84.5 470.0,84.3 470.0,84.0 470.1,83.9 470.1,83.7 470.2,83.6 470.3,83.6 470.3,83.7 470.4,83.9 470.4,84.0 470.5,84.2 470.5,84.5 470.6,84.8 470.6,85.1 470.7,85.5 470.7,85.9 470.8,86.3 470.8,86.8 470.9,87.2 470.9,87.7 471.0,88.2 471.0,88.7 471.1,89.2 471.1,89.7 471.2,90.1 471.2,90.6 471.3,91.0 471.3,91.4 471.4,91.8 471.4,92.1 471.5,92.4 471.5,92.6 471.6,92.7 471.6,92.8 471.7,92.8 471.8,92.7 471.8,92.5 471.9,92.3 471.9,92.0 472.0,91.7 472.0,91.3 472.0,90.9 472.1,90.5 472.1,90.0 472.2,89.5 472.2,89.1 472.3,88.6 472.3,88.1 472.4,87.6 472.4,87.1 472.5,86.6 472.5,86.2 472.6,85.8 472.6,85.4 472.7,85.1 472.7,84.7 472.8,84.5 472.8,84.2 472.9,84.0 472.9,83.8 472.9,83.7 473.0,83.6 473.1,83.6 473.1,83.7 473.2,83.8 473.2,83.9 473.3,84.1 473.3,84.4 473.4,84.6 473.4,84.9 473.5,85.3 473.5,85.6 473.6,86.0 473.6,86.5 473.6,86.9 473.7,87.4 473.7,87.9 473.8,88.4 473.8,88.8 473.9,89.3 473.9,89.8 474.0,90.3 474.0,90.7 474.1,91.1 474.1,91.5 474.2,91.9 474.2,92.2 474.2,92.4 474.3,92.6 474.3,92.7 474.4,92.8 474.5,92.7 474.5,92.6 474.6,92.4 474.6,92.2 474.7,91.9 474.7,91.5 474.7,91.1 474.8,90.7 474.8,90.3 474.9,89.8 474.9,89.3 475.0,88.9 475.0,88.4 475.1,87.9 475.1,87.4 475.2,86.9 475.2,86.5 475.2,86.1 475.3,85.7 475.3,85.3 475.4,84.9 475.4,84.6 475.5,84.4 475.5,84.1 475.6,84.0 475.6,83.8 475.7,83.7 475.7,83.6 475.8,83.7 475.9,83.9 475.9,84.0 476.0,84.2 476.0,84.5 476.1,84.7 476.1,85.0 476.1,85.4 476.2,85.8 476.2,86.2 476.3,86.6 476.3,87.1 476.4,87.6 476.4,88.0 476.4,88.5 476.5,89.0 476.5,89.5 476.6,90.0 476.6,90.4 476.7,90.9 476.7,91.3 476.8,91.6 476.8,91.9 476.8,92.2 476.9,92.4 476.9,92.6 477.0,92.7 477.1,92.7 477.1,92.6 477.1,92.5 477.2,92.3 477.2,92.0 477.3,91.7 477.3,91.4 477.4,91.0 477.4,90.6 477.5,90.1 477.5,89.6 477.5,89.2 477.6,88.7 477.6,88.2 477.7,87.7 477.7,87.2 477.8,86.8 477.8,86.3 477.8,85.9 477.9,85.5 477.9,85.2 478.0,84.8 478.0,84.5 478.1,84.3 478.1,84.1 478.1,83.9 478.2,83.8 478.2,83.7 478.3,83.7 478.4,83.7 478.4,83.8 478.4,83.9 478.5,84.1 478.5,84.3 478.6,84.6 478.6,84.9 478.6,85.2 478.7,85.5 478.7,85.9 478.8,86.3 478.8,86.8 478.9,87.2 478.9,87.7 478.9,88.2 479.0,88.7 479.0,89.2 479.1,89.7 479.1,90.1 479.2,90.6 479.2,91.0 479.2,91.4 479.3,91.7 479.3,92.0 479.4,92.3 479.4,92.5 479.4,92.6 479.5,92.7 479.6,92.7 479.6,92.6 479.7,92.4 479.7,92.2 479.7,91.9 479.8,91.6 479.8,91.2 479.9,90.8 479.9,90.4 479.9,89.9 480.0,89.5 480.0,89.0 480.1,88.5 480.1,88.0 480.1,87.5 480.2,87.1 480.2,86.6 480.3,86.2 480.3,85.8 480.4,85.4 480.4,85.0 480.4,84.7 480.5,84.5 480.5,84.2 480.6,84.0 480.6,83.9 480.6,83.7 480.7,83.7 480.7,83.6 480.8,83.7 480.8,83.8 480.9,84.0 480.9,84.2 481.0,84.4 481.0,84.7 481.0,85.0 481.1,85.3 481.1,85.7 481.2,86.1 481.2,86.5 481.2,87.0 481.3,87.4 481.3,87.9 481.4,88.4 481.4,88.9 481.4,89.4 481.5,89.8 481.5,90.3 481.6,90.7 481.6,91.1 481.6,91.5 481.7,91.9 481.7,92.1 481.8,92.4 481.8,92.6 481.8,92.7 481.9,92.7 482.0,92.7 482.0,92.5 482.0,92.3 482.1,92.1 482.1,91.8 482.2,91.5 482.2,91.1 482.2,90.7 482.3,90.2 482.3,89.8 482.4,89.3 482.4,88.8 482.4,88.3 482.5,87.8 482.5,87.4 482.6,86.9 482.6,86.4 482.6,86.0 482.7,85.6 482.7,85.3 482.8,84.9 482.8,84.6 482.8,84.4 482.9,84.1 482.9,83.9 482.9,83.8 483.0,83.7 483.1,83.6 483.1,83.7 483.1,83.8 483.2,83.9 483.2,84.0 483.3,84.2 483.3,84.5 483.3,84.8 483.4,85.1 483.4,85.4 483.5,85.8 483.5,86.2 483.5,86.7 483.6,87.1 483.6,87.6 483.6,88.1 483.7,88.6 483.7,89.1 483.8,89.5 483.8,90.0 483.8,90.5 483.9,90.9 483.9,91.3 484.0,91.7 484.0,92.0 484.0,92.2 484.1,92.5 484.1,92.6 484.1,92.7 484.2,92.8 484.2,92.7 484.3,92.6 484.3,92.5 484.3,92.3 484.4,92.0 484.4,91.7 484.4,91.4 484.5,91.0 484.5,90.5 484.6,90.1 484.6,89.6 484.6,89.1 484.7,88.6 484.7,88.2 484.8,87.7 484.8,87.2 484.8,86.7 484.9,86.3 484.9,85.9 484.9,85.5 485.0,85.1 485.0,84.8 485.1,84.5 485.1,84.3 485.1,84.1 485.2,83.9 485.2,83.8 485.2,83.7 485.3,83.6 485.4,83.7 485.4,83.8 485.4,83.9 485.5,84.1 485.5,84.3 485.5,84.6 485.6,84.9 485.6,85.2 485.6,85.6 485.7,86.0 485.7,86.4 485.8,86.8 485.8,87.3 485.8,87.8 485.9,88.2 485.9,88.7 485.9,89.2 486.0,89.7 486.0,90.2 486.1,90.6 486.1,91.1 486.1,91.4 486.2,91.8 486.2,92.1 486.2,92.3 486.3,92.5 486.3,92.7 486.3,92.8 486.4,92.8 486.4,92.7 486.5,92.6 486.5,92.4 486.5,92.2 486.6,91.9 486.6,91.6 486.6,91.2 486.7,90.8 486.7,90.4 486.7,89.9 486.8,89.4 486.8,89.0 486.9,88.5 486.9,88.0 486.9,87.5 487.0,87.0 487.0,86.6 487.0,86.1 487.1,85.7 487.1,85.3 487.1,85.0 487.2,84.7 487.2,84.4 487.3,84.2 487.3,84.0 487.3,83.8 487.4,83.7 487.4,83.6 487.5,83.6 487.5,83.7 487.5,83.8 487.6,84.0 487.6,84.1 487.6,84.4 487.7,84.7 487.7,85.0 487.8,85.3 487.8,85.7 487.8,86.1 487.9,86.5 487.9,87.0 487.9,87.5 488.0,87.9 488.0,88.4 488.0,88.9 488.1,89.4 488.1,89.9 488.1,90.4 488.2,90.8 488.2,91.2 488.3,91.6 488.3,91.9 488.3,92.2 488.4,92.5 488.4,92.6 488.4,92.7 488.5,92.8 488.5,92.7 488.6,92.6 488.6,92.4 488.6,92.1 488.7,91.8 488.7,91.5 488.7,91.1 488.8,90.7 488.8,90.2 488.9,89.8 488.9,89.3 488.9,88.8 489.0,88.3 489.0,87.8 489.0,87.3 489.1,86.8 489.1,86.4 489.1,86.0 489.2,85.6 489.2,85.2 489.2,84.9 489.3,84.6 489.3,84.3 489.3,84.1 489.4,83.9 489.4,83.7 489.4,83.6 489.5,83.6 489.6,83.7 489.6,83.8 489.6,84.0 489.7,84.2 489.7,84.5 489.8,84.7 489.8,85.1 489.8,85.4 489.9,85.8 489.9,86.2 489.9,86.7 490.0,87.1 490.0,87.6 490.0,88.1 490.1,88.6 490.1,89.1 490.1,89.6 490.2,90.1 490.2,90.5 490.2,91.0 490.3,91.4 490.3,91.8 490.3,92.1 490.4,92.3 490.4,92.6 490.4,92.7 490.5,92.8 490.5,92.9 490.5,92.8 490.6,92.7 490.6,92.6 490.6,92.4 490.7,92.1 490.7,91.8 490.7,91.4 490.8,91.0 490.8,90.6 490.8,90.1 490.9,89.6 490.9,89.1 490.9,88.6 491.0,88.1 491.0,87.6 491.0,87.1 491.1,86.7 491.1,86.2 491.1,85.8 491.2,85.4 491.2,85.0 491.2,84.7 491.3,84.4 491.3,84.2 491.3,83.9 491.4,83.8 491.4,83.6 491.5,83.5 491.5,83.6 491.6,83.7 491.6,83.8 491.6,84.0 491.7,84.2 491.7,84.5 491.7,84.8 491.8,85.1 491.8,85.5 491.8,85.9 491.9,86.4 491.9,86.8 491.9,87.3 492.0,87.8 492.0,88.3 492.0,88.8 492.1,89.3 492.1,89.8 492.1,90.3 492.2,90.8 492.2,91.2 492.2,91.6 492.3,92.0 492.3,92.3 492.3,92.6 492.4,92.8 492.4,92.9 492.4,93.0 492.5,93.0 492.5,92.9 492.6,92.7 492.6,92.4 492.6,92.1 492.7,91.8 492.7,91.4 492.7,91.0 492.8,90.5 492.8,90.0 492.8,89.5 492.9,89.0 492.9,88.5 492.9,87.9 493.0,87.4 493.0,86.9 493.0,86.5 493.0,86.0 493.1,85.6 493.1,85.2 493.1,84.8 493.2,84.5 493.2,84.2 493.2,83.9 493.3,83.7 493.3,83.6 493.3,83.4 493.4,83.4 493.5,83.4 493.5,83.6 493.5,83.7 493.6,83.9 493.6,84.2 493.6,84.5 493.7,84.8 493.7,85.2 493.7,85.6 493.8,86.0 493.8,86.5 493.8,87.0 493.8,87.5 493.9,88.0 493.9,88.5 493.9,89.1 494.0,89.6 494.0,90.1 494.0,90.6 494.1,91.1 494.1,91.6 494.1,92.0 494.2,92.3 494.2,92.7 494.2,92.9 494.3,93.1 494.3,93.2 494.3,93.3 494.4,93.3 494.4,93.2 494.4,93.1 494.5,92.8 494.5,92.6 494.5,92.2 494.5,91.8 494.6,91.4 494.6,91.0 494.6,90.5 494.7,89.9 494.7,89.4 494.7,88.8 494.8,88.3 494.8,87.8 494.8,87.2 494.9,86.7 494.9,86.2 494.9,85.7 495.0,85.3 495.0,84.9 495.0,84.5 495.0,84.2 495.1,83.9 495.1,83.7 495.1,83.5 495.2,83.3 495.2,83.2 495.3,83.1 495.3,83.2 495.3,83.3 495.4,83.4 495.4,83.6 495.4,83.8 495.4,84.1 495.5,84.4 495.5,84.8 495.5,85.2 495.6,85.6 495.6,86.1 495.6,86.6 495.7,87.1 495.7,87.6 495.7,88.2 495.8,88.8 495.8,89.3 495.8,89.9 495.8,90.4 495.9,91.0 495.9,91.5 495.9,91.9 496.0,92.4 496.0,92.7 496.0,93.0 496.1,93.3 496.1,93.5 496.1,93.6 496.2,93.6 496.2,93.5 496.2,93.3 496.3,93.0 496.3,92.7 496.3,92.3 496.4,91.9 496.4,91.4 496.4,90.9 496.5,90.4 496.5,89.8 496.5,89.3 496.5,88.7 496.6,88.1 496.6,87.6 496.6,87.0 496.7,86.5 496.7,86.0 496.7,85.5 496.8,85.0 496.8,84.6 496.8,84.2 496.9,83.9 496.9,83.6 496.9,83.4 496.9,83.2 497.0,83.1 497.0,83.0 497.0,82.9 497.1,82.9 497.1,83.0 497.1,83.1 497.2,83.3 497.2,83.5 497.2,83.7 497.2,84.0 497.3,84.4 497.3,84.8 497.3,85.2 497.4,85.7 497.4,86.2 497.4,86.7 497.4,87.3 497.5,87.8 497.5,88.4 497.5,89.0 497.6,89.6 497.6,90.2 497.6,90.8 497.7,91.3 497.7,91.9 497.7,92.3 497.7,92.8 497.8,93.1 497.8,93.4 497.8,93.7 497.9,93.9 497.9,94.0 498.0,93.9 498.0,93.7 498.0,93.5 498.0,93.2 498.1,92.9 498.1,92.4 498.1,92.0 498.2,91.5 498.2,90.9 498.2,90.3 498.2,89.7 498.3,89.1 498.3,88.5 498.3,87.9 498.4,87.3 498.4,86.8 498.4,86.2 498.5,85.7 498.5,85.2 498.5,84.7 498.5,84.3 498.6,84.0 498.6,83.6 498.6,83.4 498.7,83.1 498.7,82.9 498.7,82.8 498.7,82.7 498.8,82.7 498.8,82.8 498.9,83.0 498.9,83.2 498.9,83.4 498.9,83.7 499.0,84.0 499.0,84.4 499.0,84.8 499.1,85.3 499.1,85.8 499.1,86.3 499.1,86.9 499.2,87.5 499.2,88.1 499.2,88.7 499.3,89.3 499.3,89.9 499.3,90.5 499.3,91.1 499.4,91.7 499.4,92.2 499.4,92.7 499.5,93.1 499.5,93.5 499.5,93.8 499.5,94.0 499.6,94.2 499.6,94.3 499.6,94.2 499.7,94.1 499.7,93.9 499.7,93.7 499.7,93.3 499.8,92.9 499.8,92.5 499.8,92.0 499.9,91.4 499.9,90.8 499.9,90.2 499.9,89.6 500.0,89.0 500.0,88.3 500.0,87.7 500.1,87.1 500.1,86.5 500.1,86.0 500.1,85.4 500.2,84.9 500.2,84.5 500.2,84.1 500.3,83.7 500.3,83.4 500.3,83.1 500.3,82.9 500.4,82.7 500.4,82.6 500.5,82.6 500.5,82.7 500.5,82.9 500.6,83.1 500.6,83.3 500.6,83.7 500.7,84.0 500.7,84.4 500.7,84.9 500.7,85.4 500.8,85.9 500.8,86.5 500.8,87.1 500.8,87.7 500.9,88.3 500.9,89.0 500.9,89.6 501.0,90.2 501.0,90.9 501.0,91.5 501.0,92.0 501.1,92.6 501.1,93.1 501.1,93.5 501.2,93.9 501.2,94.1 501.2,94.3 501.2,94.5 501.3,94.5 501.3,94.4 501.3,94.3 501.3,94.1 501.4,93.8 501.4,93.4 501.4,93.0 501.5,92.5 501.5,91.9 501.5,91.3 501.5,90.7 501.6,90.1 501.6,89.4 501.6,88.8 501.7,88.1 501.7,87.5 501.7,86.9 501.7,86.3 501.8,85.7 501.8,85.2 501.8,84.7 501.8,84.2 501.9,83.8 501.9,83.5 501.9,83.1 502.0,82.9 502.0,82.7 502.0,82.5 502.0,82.4 502.1,82.4 502.1,82.5 502.1,82.6 502.2,82.8 502.2,83.0 502.2,83.3 502.3,83.7 502.3,84.1 502.3,84.5 502.3,85.0 502.4,85.5 502.4,86.1 502.4,86.6 502.4,87.3 502.5,87.9 502.5,88.6 502.5,89.2 502.6,89.9 502.6,90.6 502.6,91.2 502.6,91.8 502.7,92.4 502.7,92.9 502.7,93.4 502.7,93.8 502.8,94.2 502.8,94.4 502.8,94.6 502.8,94.7 502.9,94.7 502.9,94.6 502.9,94.5 503.0,94.2 503.0,93.8 503.0,93.4 503.0,92.9 503.1,92.4 503.1,91.8 503.1,91.2 503.1,90.6 503.2,89.9 503.2,89.2 503.2,88.5 503.3,87.9 503.3,87.2 503.3,86.6 503.3,86.0 503.4,85.4 503.4,84.9 503.4,84.4 503.4,84.0 503.5,83.6 503.5,83.2 503.5,82.9 503.5,82.7 503.6,82.5 503.6,82.4 503.6,82.3 503.7,82.3 503.7,82.4 503.7,82.5 503.8,82.8 503.8,83.0 503.8,83.3 503.8,83.7 503.9,84.1 503.9,84.6 503.9,85.1 503.9,85.6 504.0,86.2 504.0,86.8 504.0,87.5 504.0,88.2 504.1,88.8 504.1,89.5 504.1,90.2 504.2,90.9 504.2,91.5 504.2,92.2 504.2,92.7 504.3,93.3 504.3,93.8 504.3,94.2 504.3,94.5 504.4,94.7 504.4,94.9 504.4,95.0 504.4,94.9 504.5,94.8 504.5,94.6 504.5,94.3 504.5,93.9 504.6,93.4 504.6,92.9 504.6,92.3 504.6,91.7 504.7,91.1 504.7,90.4 504.7,89.7 504.8,89.0 504.8,88.3 504.8,87.6 504.8,87.0 504.9,86.3 504.9,85.7 504.9,85.2 504.9,84.6 505.0,84.2 505.0,83.7 505.0,83.3 505.0,83.0 505.1,82.7 505.1,82.5 505.1,82.3 505.1,82.2 505.2,82.1 505.2,82.2 505.2,82.3 505.3,82.5 505.3,82.7 505.3,83.0 505.3,83.3 505.4,83.7 505.4,84.2 505.4,84.7 505.4,85.2 505.5,85.8 505.5,86.4 505.5,87.1 505.6,87.7 505.6,88.4 505.6,89.1 505.6,89.8 505.7,90.5 505.7,91.2 505.7,91.9 505.7,92.5 505.8,93.1 505.8,93.6 505.8,94.1 505.8,94.5 505.9,94.8 505.9,95.0 505.9,95.1 505.9,95.2 506.0,95.1 506.0,94.9 506.0,94.7 506.0,94.3 506.1,93.9 506.1,93.4 506.1,92.9 506.1,92.2 506.2,91.6 506.2,90.9 506.2,90.2 506.2,89.5 506.3,88.8 506.3,88.1 506.3,87.4 506.3,86.7 506.4,86.1 506.4,85.5 506.4,84.9 506.4,84.4 506.5,83.9 506.5,83.5 506.5,83.1 506.5,82.8 506.6,82.5 506.6,82.3 506.6,82.1 506.6,82.0 506.7,82.0 506.7,82.1 506.7,82.2 506.8,82.4 506.8,82.7 506.8,83.0 506.8,83.4 506.9,83.8 506.9,84.3 506.9,84.8 506.9,85.4 507.0,86.0 507.0,86.6 507.0,87.3 507.0,88.0 507.1,88.7 507.1,89.4 507.1,90.1 507.1,90.9 507.2,91.6 507.2,92.2 507.2,92.9 507.2,93.5 507.3,94.0 507.3,94.4 507.3,94.8 507.3,95.1 507.4,95.3 507.4,95.4 507.4,95.3 507.5,95.1 507.5,94.8 507.5,94.4 507.5,93.9 507.6,93.4 507.6,92.8 507.6,92.1 507.6,91.5 507.7,90.7 507.7,90.0 507.7,89.3 507.7,88.6 507.8,87.8 507.8,87.1 507.8,86.5 507.8,85.8 507.9,85.2 507.9,84.6 507.9,84.1 507.9,83.6 508.0,83.2 508.0,82.8 508.0,82.5 508.0,82.3 508.1,82.1 508.1,81.9 508.2,82.0 508.2,82.2 508.2,82.4 508.2,82.7 508.3,83.0 508.3,83.4 508.3,83.9 508.3,84.4 508.4,84.9 508.4,85.5 508.4,86.1 508.4,86.8 508.5,87.5 508.5,88.2 508.5,89.0 508.5,89.7 508.6,90.5 508.6,91.2 508.6,91.9 508.6,92.6 508.7,93.3 508.7,93.8 508.7,94.4 508.7,94.8 508.8,95.2 508.8,95.4 508.8,95.6 508.8,95.7 508.8,95.6 508.9,95.5 508.9,95.2 508.9,94.9 508.9,94.4 509.0,93.9 509.0,93.3 509.0,92.7 509.0,92.0 509.1,91.3 509.1,90.6 509.1,89.8 509.1,89.1 509.2,88.3 509.2,87.6 509.2,86.9 509.2,86.2 509.3,85.5 509.3,84.9 509.3,84.4 509.3,83.8 509.4,83.4 509.4,83.0 509.4,82.6 509.4,82.3 509.4,82.1 509.5,81.9 509.5,81.8 509.5,81.7 509.6,81.8 509.6,81.9 509.6,82.1 509.6,82.4 509.7,82.7 509.7,83.0 509.7,83.5 509.7,83.9 509.8,84.5 509.8,85.1 509.8,85.7 509.8,86.3 509.9,87.0 509.9,87.8 509.9,88.5 509.9,89.3 509.9,90.1 510.0,90.8 510.0,91.6 510.0,92.3 510.0,93.0 510.1,93.6 510.1,94.2 510.1,94.7 510.1,95.2 510.2,95.5 510.2,95.7 510.2,95.9 510.3,95.8 510.3,95.6 510.3,95.3 510.3,94.9 510.3,94.5 510.4,93.9 510.4,93.3 510.4,92.6 510.4,91.9 510.5,91.1 510.5,90.4 510.5,89.6 510.5,88.8 510.6,88.0 510.6,87.3 510.6,86.6 510.6,85.9 510.6,85.2 510.7,84.6 510.7,84.1 510.7,83.6 510.7,83.1 510.8,82.7 510.8,82.3 510.8,82.1 510.8,81.8 510.9,81.7 510.9,81.6 510.9,81.5 510.9,81.6 510.9,81.7 511.0,81.8 511.0,82.0 511.0,82.3 511.0,82.7 511.1,83.1 511.1,83.5 511.1,84.0 511.1,84.6 511.2,85.2 511.2,85.9 511.2,86.6 511.2,87.3 511.2,88.1 511.3,88.8 511.3,89.6 511.3,90.4 511.3,91.2 511.4,92.0 511.4,92.7 511.4,93.4 511.4,94.1 511.5,94.7 511.5,95.2 511.5,95.6 511.5,95.9 511.5,96.1 511.6,96.2 511.6,96.1 511.6,95.9 511.7,95.5 511.7,95.1 511.7,94.5 511.7,93.9 511.8,93.3 511.8,92.5 511.8,91.8 511.8,91.0 511.8,90.2 511.9,89.4 511.9,88.6 511.9,87.8 511.9,87.0 512.0,86.3 512.0,85.6 512.0,84.9 512.0,84.3 512.0,83.7 512.1,83.2 512.1,82.8 512.1,82.4 512.1,82.0 512.2,81.8 512.2,81.6 512.2,81.4 512.2,81.3 512.3,81.3 512.3,81.4 512.3,81.5 512.3,81.7 512.3,81.9 512.4,82.2 512.4,82.6 512.4,83.1 512.4,83.5 512.5,84.1 512.5,84.7 512.5,85.3 512.5,86.0 512.5,86.8 512.6,87.6 512.6,88.4 512.6,89.2 512.6,90.0 512.7,90.8 512.7,91.7 512.7,92.5 512.7,93.2 512.7,93.9 512.8,94.6 512.8,95.2 512.8,95.7 512.8,96.1 512.9,96.4 512.9,96.6 512.9,96.4 513.0,96.1 513.0,95.7 513.0,95.2 513.0,94.6 513.1,94.0 513.1,93.2 513.1,92.5 513.1,91.6 513.1,90.8 513.2,90.0 513.2,89.1 513.2,88.3 513.2,87.5 513.3,86.7 513.3,85.9 513.3,85.2 513.3,84.6 513.3,84.0 513.4,83.4 513.4,82.9 513.4,82.4 513.4,82.1 513.5,81.7 513.5,81.5 513.5,81.3 513.5,81.2 513.5,81.1 513.6,81.1 513.6,81.2 513.6,81.4 513.6,81.6 513.7,81.8 513.7,82.2 513.7,82.6 513.7,83.1 513.7,83.6 513.8,84.2 513.8,84.8 513.8,85.5 513.8,86.3 513.9,87.0 513.9,87.8 513.9,88.7 513.9,89.5 513.9,90.4 514.0,91.3 514.0,92.1 514.0,92.9 514.0,93.7 514.0,94.5 514.1,95.1 514.1,95.7 514.1,96.2 514.1,96.6 514.2,96.9 514.2,97.0 514.2,96.9 514.2,96.7 514.3,96.3 514.3,95.9 514.3,95.3 514.3,94.7 514.4,93.9 514.4,93.2 514.4,92.3 514.4,91.5 514.4,90.6 514.5,89.7 514.5,88.9 514.5,88.0 514.5,87.2 514.5,86.4 514.6,85.6 514.6,84.9 514.6,84.2 514.6,83.6 514.7,83.1 514.7,82.6 514.7,82.1 514.7,81.8 514.7,81.5 514.8,81.2 514.8,81.1 514.8,81.0 514.8,80.9 514.9,81.0 514.9,81.1 514.9,81.2 514.9,81.5 514.9,81.8 515.0,82.2 515.0,82.6 515.0,83.1 515.0,83.7 515.0,84.3 515.1,85.0 515.1,85.7 515.1,86.5 515.1,87.3 515.2,88.1 515.2,89.0 515.2,89.9 515.2,90.8 515.2,91.7 515.3,92.6 515.3,93.4 515.3,94.2 515.3,94.9 515.3,95.6 515.4,96.2 515.4,96.6 515.4,97.0 515.4,97.2 515.4,97.3 515.5,97.3 515.5,97.1 515.5,96.8 515.5,96.4 515.6,95.9 515.6,95.3 515.6,94.6 515.6,93.8 515.6,93.0 515.7,92.1 515.7,91.3 515.7,90.4 515.7,89.5 515.7,88.6 515.8,87.7 515.8,86.9 515.8,86.1 515.8,85.3 515.9,84.6 515.9,83.9 515.9,83.3 515.9,82.8 515.9,82.3 516.0,81.9 516.0,81.5 516.0,81.2 516.0,81.0 516.0,80.9 516.1,80.8 516.1,80.9 516.1,81.0 516.1,81.2 516.2,81.5 516.2,81.8 516.2,82.2 516.2,82.7 516.3,83.2 516.3,83.8 516.3,84.5 516.3,85.2 516.3,86.0 516.4,86.8 516.4,87.6 516.4,88.5 516.4,89.4 516.4,90.3 516.5,91.2 516.5,92.1 516.5,93.0 516.5,93.8 516.5,94.6 516.6,95.3 516.6,96.0 516.6,96.5 516.6,96.9 516.6,97.3 516.7,97.4 516.7,97.5 516.7,97.4 516.7,97.2 516.8,96.9 516.8,96.4 516.8,95.8 516.8,95.2 516.8,94.4 516.9,93.6 516.9,92.8 516.9,91.9 516.9,91.0 516.9,90.1 517.0,89.2 517.0,88.3 517.0,87.4 517.0,86.6 517.0,85.8 517.1,85.0 517.1,84.3 517.1,83.7 517.1,83.1 517.1,82.6 517.2,82.1 517.2,81.7 517.2,81.4 517.2,81.1 517.2,80.9 517.3,80.8 517.3,80.9 517.4,81.0 517.4,81.3 517.4,81.6 517.4,81.9 517.4,82.4 517.5,82.9 517.5,83.4 517.5,84.1 517.5,84.7 517.5,85.5 517.6,86.2 517.6,87.1 517.6,87.9 517.6,88.8 517.6,89.7 517.7,90.6 517.7,91.5 517.7,92.4 517.7,93.3 517.7,94.1 517.8,94.9 517.8,95.5 517.8,96.1 517.8,96.6 517.8,97.0 517.9,97.3 517.9,97.4 517.9,97.3 517.9,97.0 518.0,96.6 518.0,96.1 518.0,95.5 518.0,94.9 518.0,94.1 518.1,93.3 518.1,92.4 518.1,91.5 518.1,90.6 518.1,89.7 518.2,88.8 518.2,87.9 518.2,87.1 518.2,86.3 518.2,85.5 518.3,84.8 518.3,84.1 518.3,83.5 518.3,82.9 518.3,82.4 518.4,82.0 518.4,81.7 518.4,81.4 518.4,81.1 518.4,81.0 518.5,80.9 518.5,81.0 518.5,81.2 518.6,81.5 518.6,81.8 518.6,82.2 518.6,82.6 518.6,83.1 518.7,83.7 518.7,84.4 518.7,85.0 518.7,85.8 518.7,86.6 518.8,87.4 518.8,88.2 518.8,89.1 518.8,90.0 518.8,90.9 518.9,91.7 518.9,92.6 518.9,93.4 518.9,94.2 518.9,94.9 519.0,95.6 519.0,96.1 519.0,96.5 519.0,96.9 519.0,97.1 519.1,97.2 519.1,97.1 519.1,96.9 519.1,96.6 519.1,96.2 519.2,95.7 519.2,95.1 519.2,94.4 519.2,93.6 519.2,92.8 519.3,92.0 519.3,91.1 519.3,90.2 519.3,89.3 519.3,88.5 519.4,87.6 519.4,86.8 519.4,86.1 519.4,85.3 519.4,84.6 519.5,84.0 519.5,83.4 519.5,82.9 519.5,82.4 519.5,82.0 519.6,81.7 519.6,81.5 519.6,81.3 519.6,81.1 519.7,81.1 519.7,81.3 519.7,81.5 519.7,81.8 519.8,82.1 519.8,82.5 519.8,83.0 519.8,83.5 519.8,84.1 519.9,84.7 519.9,85.4 519.9,86.1 519.9,86.9 519.9,87.7 520.0,88.5 520.0,89.3 520.0,90.2 520.0,91.0 520.0,91.9 520.1,92.7 520.1,93.5 520.1,94.2 520.1,94.8 520.1,95.4 520.2,95.9 520.2,96.3 520.2,96.5 520.2,96.7 520.2,96.6 520.3,96.4 520.3,96.1 520.3,95.6 520.3,95.1 520.3,94.5 520.4,93.8 520.4,93.1 520.4,92.3 520.4,91.5 520.4,90.6 520.5,89.8 520.5,89.0 520.5,88.2 520.5,87.4 520.5,86.6 520.6,85.9 520.6,85.2 520.6,84.5 520.6,83.9 520.6,83.4 520.7,82.9 520.7,82.5 520.7,82.2 520.7,81.9 520.7,81.6 520.8,81.5 520.8,81.4 520.8,81.3 520.8,81.4 520.8,81.5 520.8,81.6 520.9,81.8 520.9,82.1 520.9,82.5 520.9,82.9 520.9,83.4 521.0,83.9 521.0,84.4 521.0,85.1 521.0,85.7 521.0,86.4 521.1,87.2 521.1,88.0 521.1,88.8 521.1,89.6 521.1,90.4 521.2,91.2 521.2,91.9 521.2,92.7 521.2,93.4 521.2,94.0 521.2,94.6 521.3,95.1 521.3,95.5 521.3,95.9 521.3,96.1 521.3,96.2 521.4,96.1 521.4,96.0 521.4,95.8 521.4,95.4 521.4,95.0 521.5,94.5 521.5,93.9 521.5,93.2 521.5,92.5 521.5,91.8 521.6,91.0 521.6,90.2 521.6,89.4 521.6,88.6 521.6,87.9 521.6,87.1 521.7,86.4 521.7,85.7 521.7,85.1 521.7,84.5 521.7,84.0 521.8,83.5 521.8,83.0 521.8,82.6 521.8,82.3 521.8,82.1 521.9,81.9 521.9,81.7 521.9,81.6 521.9,81.7 522.0,81.8 522.0,82.0 522.0,82.2 522.0,82.5 522.0,82.9 522.0,83.3 522.1,83.8 522.1,84.3 522.1,84.8 522.1,85.4 522.1,86.1 522.2,86.8 522.2,87.5 522.2,88.2 522.2,89.0 522.2,89.7 522.3,90.5 522.3,91.2 522.3,91.9 522.3,92.6 522.3,93.3 522.3,93.8 522.4,94.4 522.4,94.8 522.4,95.1 522.4,95.4 522.4,95.6 522.5,95.6 522.5,95.4 522.5,95.1 522.5,94.8 522.6,94.4 522.6,93.8 522.6,93.3 522.6,92.6 522.6,92.0 522.6,91.3 522.7,90.5 522.7,89.8 522.7,89.1 522.7,88.3 522.7,87.6 522.8,86.9 522.8,86.2 522.8,85.6 522.8,85.0 522.8,84.5 522.8,84.0 522.9,83.5 522.9,83.1 522.9,82.8 522.9,82.5 522.9,82.3 523.0,82.1 523.0,82.0 523.0,82.1 523.1,82.2 523.1,82.4 523.1,82.6 523.1,82.9 523.1,83.3 523.1,83.7 523.2,84.1 523.2,84.7 523.2,85.2 523.2,85.8 523.2,86.4 523.3,87.1 523.3,87.7 523.3,88.4 523.3,89.2 523.3,89.9 523.3,90.6 523.4,91.2 523.4,91.9 523.4,92.5 523.4,93.1 523.4,93.6 523.5,94.1 523.5,94.5 523.5,94.7 523.5,94.9 523.5,95.1 523.6,95.0 523.6,94.8 523.6,94.5 523.6,94.2 523.6,93.8 523.7,93.3 523.7,92.7 523.7,92.1 523.7,91.5 523.7,90.8 523.7,90.1 523.8,89.4 523.8,88.7 523.8,88.0 523.8,87.4 523.8,86.7 523.9,86.1 523.9,85.5 523.9,85.0 523.9,84.5 523.9,84.0 523.9,83.6 524.0,83.3 524.0,83.0 524.0,82.7 524.0,82.5 524.0,82.4 524.1,82.3 524.1,82.4 524.1,82.5 524.1,82.7 524.2,83.0 524.2,83.3 524.2,83.7 524.2,84.1 524.2,84.5 524.3,85.0 524.3,85.5 524.3,86.1 524.3,86.7 524.3,87.3 524.3,88.0 524.4,88.6 524.4,89.3 524.4,90.0 524.4,90.6 524.4,91.3 524.5,91.9 524.5,92.4 524.5,92.9 524.5,93.4 524.5,93.8 524.5,94.1 524.6,94.4 524.6,94.5 524.6,94.6 524.6,94.4 524.7,94.2 524.7,94.0 524.7,93.6 524.7,93.2 524.7,92.7 524.7,92.2 524.8,91.6 524.8,91.0 524.8,90.4 524.8,89.7 524.8,89.1 524.8,88.4 524.9,87.8 524.9,87.2 524.9,86.6 524.9,86.0 524.9,85.5 525.0,85.0 525.0,84.5 525.0,84.1 525.0,83.7 525.0,83.4 525.0,83.2 525.1,82.9 525.1,82.8 525.1,82.7 525.1,82.6 525.2,82.7 525.2,82.8 525.2,82.9 525.2,83.1 525.2,83.4 525.2,83.7 525.3,84.0 525.3,84.4 525.3,84.9 525.3,85.4 525.3,85.9 525.3,86.4 525.4,87.0 525.4,87.6 525.4,88.2 525.4,88.8 525.4,89.4 525.5,90.0 525.5,90.6 525.5,91.2 525.5,91.7 525.5,92.2 525.5,92.7 525.6,93.1 525.6,93.4 525.6,93.7 525.6,93.9 525.6,94.0 525.7,93.9 525.7,93.8 525.7,93.6 525.7,93.3 525.7,93.0 525.8,92.6 525.8,92.1 525.8,91.6 525.8,91.1 525.8,90.5 525.8,90.0 525.9,89.4 525.9,88.8 525.9,88.2 525.9,87.6 525.9,87.0 525.9,86.5 526.0,86.0 526.0,85.5 526.0,85.0 526.0,84.6 526.0,84.3 526.0,83.9 526.1,83.7 526.1,83.4 526.1,83.2 526.1,83.1 526.1,83.0 526.2,83.0 526.2,83.1 526.2,83.2 526.2,83.4 526.2,83.6 526.3,83.8 526.3,84.1 526.3,84.5 526.3,84.9 526.3,85.3 526.3,85.7 526.4,86.2 526.4,86.7 526.4,87.3 526.4,87.8 526.4,88.4 526.4,88.9 526.5,89.5 526.5,90.0 526.5,90.5 526.5,91.1 526.5,91.5 526.6,92.0 526.6,92.3 526.6,92.7 526.6,93.0 526.6,93.2 526.6,93.3 526.7,93.4 526.7,93.3 526.7,93.2 526.7,93.0 526.7,92.7 526.8,92.4 526.8,92.0 526.8,91.6 526.8,91.1 526.8,90.6 526.8,90.1 526.9,89.6 526.9,89.0 526.9,88.5 526.9,87.9 526.9,87.4 526.9,86.9 527.0,86.4 527.0,86.0 527.0,85.5 527.0,85.1 527.0,84.8 527.1,84.5 527.1,84.2 527.1,83.9 527.1,83.7 527.1,83.6 527.1,83.5 527.2,83.4 527.2,83.5 527.2,83.6 527.2,83.8 527.3,84.0 527.3,84.3 527.3,84.6 527.3,84.9 527.3,85.3 527.3,85.7 527.4,86.1 527.4,86.5 527.4,87.0 527.4,87.5 527.4,88.0 527.4,88.5 527.5,89.0 527.5,89.5 527.5,90.0 527.5,90.4 527.5,90.9 527.5,91.3 527.6,91.7 527.6,92.0 527.6,92.3 527.6,92.5 527.6,92.6 527.6,92.7 527.7,92.8 527.7,92.7 527.7,92.5 527.7,92.3 527.7,92.1 527.8,91.8 527.8,91.4 527.8,91.0 527.8,90.6 527.8,90.1 527.8,89.7 527.9,89.2 527.9,88.7 527.9,88.2 527.9,87.8 527.9,87.3 528.0,86.8 528.0,86.4 528.0,86.0 528.0,85.6 528.0,85.3 528.0,85.0 528.1,84.7 528.1,84.4 528.1,84.2 528.1,84.1 528.1,83.9 528.1,83.8 528.2,83.8 528.2,83.9 528.2,84.1 528.2,84.2 528.3,84.4 528.3,84.7 528.3,85.0 528.3,85.3 528.3,85.6 528.3,86.0 528.4,86.4 528.4,86.8 528.4,87.2 528.4,87.7 528.4,88.1 528.4,88.6 528.5,89.0 528.5,89.5 528.5,89.9 528.5,90.3 528.5,90.7 528.5,91.0 528.6,91.4 528.6,91.6 528.6,91.9 528.6,92.0 528.6,92.2 528.7,92.3 528.7,92.2 528.7,92.1 528.7,92.0 528.7,91.8 528.7,91.5 528.8,91.2 528.8,90.9 528.8,90.6 528.8,90.2 528.8,89.8 528.8,89.3 528.9,88.9 528.9,88.5 528.9,88.0 528.9,87.6 528.9,87.2 528.9,86.8 529.0,86.4 529.0,86.0 529.0,85.7 529.0,85.4 529.0,85.1 529.0,84.9 529.1,84.6 529.1,84.5 529.1,84.3 529.1,84.2 529.1,84.1 529.2,84.2 529.2,84.3 529.2,84.4 529.2,84.6 529.2,84.8 529.2,85.0 529.3,85.3 529.3,85.6 529.3,85.9 529.3,86.3 529.3,86.6 529.3,87.0 529.4,87.4 529.4,87.8 529.4,88.2 529.4,88.7 529.4,89.1 529.4,89.5 529.5,89.8 529.5,90.2 529.5,90.5 529.5,90.9 529.5,91.1 529.5,91.4 529.6,91.6 529.6,91.7 529.6,91.8 529.7,91.7 529.7,91.5 529.7,91.3 529.7,91.1 529.7,90.8 529.7,90.5 529.8,90.2 529.8,89.8 529.8,89.5 529.8,89.1 529.8,88.7 529.8,88.3 529.9,87.9 529.9,87.5 529.9,87.1 529.9,86.7 529.9,86.4 529.9,86.1 530.0,85.7 530.0,85.5 530.0,85.2 530.0,85.0 530.0,84.8 530.0,84.7 530.0,84.5 530.1,84.5 530.1,84.4 530.1,84.5 530.1,84.6 530.2,84.7 530.2,84.9 530.2,85.1 530.2,85.3 530.2,85.6 530.2,85.9 530.3,86.2 530.3,86.5 530.3,86.8 530.3,87.2 530.3,87.6 530.3,88.0 530.4,88.4 530.4,88.7 530.4,89.1 530.4,89.5 530.4,89.8 530.4,90.2 530.5,90.5 530.5,90.7 530.5,91.0 530.5,91.2 530.5,91.3 530.5,91.5 530.6,91.6 530.6,91.5 530.6,91.4 530.6,91.2 530.6,91.0 530.7,90.8 530.7,90.5 530.7,90.2 530.7,89.9 530.7,89.6 530.7,89.2 530.8,88.9 530.8,88.5 530.8,88.1 530.8,87.7 530.8,87.4 530.8,87.0 530.9,86.7 530.9,86.4 530.9,86.0 530.9,85.8 530.9,85.5 530.9,85.3 530.9,85.1 531.0,84.9 531.0,84.8 531.0,84.7 531.0,84.6 531.1,84.6 531.1,84.7 531.1,84.8 531.1,84.9 531.1,85.1 531.1,85.3 531.2,85.5 531.2,85.8 531.2,86.1 531.2,86.4 531.2,86.7 531.2,87.0 531.2,87.4 531.3,87.7 531.3,88.1 531.3,88.4 531.3,88.8 531.3,89.2 531.3,89.5 531.4,89.8 531.4,90.1 531.4,90.4 531.4,90.6 531.4,90.9 531.4,91.0 531.5,91.2 531.5,91.3 531.5,91.2 531.5,91.1 531.6,90.9 531.6,90.8 531.6,90.5 531.6,90.3 531.6,90.0 531.6,89.7 531.7,89.4 531.7,89.0 531.7,88.7 531.7,88.3 531.7,88.0 531.7,87.6 531.8,87.3 531.8,86.9 531.8,86.6 531.8,86.3 531.8,86.0 531.8,85.8 531.8,85.6 531.9,85.4 531.9,85.2 531.9,85.0 531.9,84.9 531.9,84.8 532.0,84.8 532.0,84.9 532.0,85.0 532.0,85.2 532.1,85.3 532.1,85.5 532.1,85.7 532.1,86.0 532.1,86.3 532.1,86.6 532.1,86.9 532.2,87.2 532.2,87.5 532.2,87.9 532.2,88.2 532.2,88.5 532.2,88.9 532.3,89.2 532.3,89.5 532.3,89.8 532.3,90.1 532.3,90.3 532.3,90.5 532.3,90.7 532.4,90.9 532.4,91.0 532.4,91.1 532.5,91.0 532.5,90.9 532.5,90.7 532.5,90.5 532.5,90.3 532.5,90.0 532.5,89.8 532.6,89.5 532.6,89.2 532.6,88.8 532.6,88.5 532.6,88.2 532.6,87.8 532.7,87.5 532.7,87.2 532.7,86.9 532.7,86.6 532.7,86.3 532.7,86.1 532.7,85.8 532.8,85.6 532.8,85.4 532.8,85.3 532.8,85.1 532.8,85.0 532.9,84.9 532.9,85.0 532.9,85.1 532.9,85.2 532.9,85.3 533.0,85.5 533.0,85.7 533.0,85.9 533.0,86.2 533.0,86.4 533.0,86.7 533.1,87.0 533.1,87.3 533.1,87.6 533.1,88.0 533.1,88.3 533.1,88.6 533.1,88.9 533.2,89.2 533.2,89.5 533.2,89.8 533.2,90.0 533.2,90.3 533.2,90.5 533.3,90.6 533.3,90.8 533.3,90.9 533.4,90.8 533.4,90.7 533.4,90.5 533.4,90.3 533.4,90.1 533.4,89.8 533.5,89.6 533.5,89.3 533.5,89.0 533.5,88.7 533.5,88.4 533.5,88.0 533.5,87.7 533.6,87.4 533.6,87.1 533.6,86.8 533.6,86.5 533.6,86.3 533.6,86.0 533.7,85.8 533.7,85.6 533.7,85.5 533.7,85.3 533.7,85.2 533.7,85.1 533.8,85.0 533.8,85.1 533.8,85.2 533.8,85.3 533.8,85.5 533.9,85.7 533.9,85.9 533.9,86.1 533.9,86.3 533.9,86.6 533.9,86.9 534.0,87.2 534.0,87.5 534.0,87.8 534.0,88.1 534.0,88.4 534.0,88.7 534.0,89.0 534.1,89.3 534.1,89.6 534.1,89.8 534.1,90.0 534.1,90.2 534.1,90.4 534.1,90.6 534.2,90.7 534.2,90.8 534.2,90.7 534.3,90.6 534.3,90.5 534.3,90.3 534.3,90.1 534.3,89.9 534.3,89.7 534.3,89.4 534.4,89.1 534.4,88.8 534.4,88.5 534.4,88.2 534.4,87.9 534.4,87.6 534.4,87.3 534.5,87.0 534.5,86.7 534.5,86.5 534.5,86.2 534.5,86.0 534.5,85.8 534.6,85.6 534.6,85.5 534.6,85.3 534.6,85.2 534.6,85.1 534.7,85.1 534.7,85.2 534.7,85.3 534.7,85.5 534.7,85.6 534.7,85.8 534.8,86.0 534.8,86.2 534.8,86.4 534.8,86.7 534.8,87.0 534.8,87.3 534.8,87.6 534.9,87.9 534.9,88.2 534.9,88.5 534.9,88.8 534.9,89.1 534.9,89.3 535.0,89.6 535.0,89.9 535.0,90.1 535.0,90.3 535.0,90.4 535.0,90.6 535.0,90.7 535.1,90.7 535.1,90.8 535.1,90.7 535.1,90.6 535.1,90.4 535.2,90.2 535.2,90.0 535.2,89.8 535.2,89.6 535.2,89.3 535.2,89.0 535.2,88.7 535.3,88.4 535.3,88.1 535.3,87.8 535.3,87.5 535.3,87.2 535.3,86.9 535.3,86.7 535.4,86.4 535.4,86.2 535.4,85.9 535.4,85.7 535.4,85.6 535.4,85.4 535.5,85.3 535.5,85.2 535.5,85.1 535.5,85.2 535.6,85.3 535.6,85.4 535.6,85.5 535.6,85.7 535.6,85.8 535.6,86.1 535.6,86.3 535.7,86.5 535.7,86.8 535.7,87.1 535.7,87.4 535.7,87.7 535.7,88.0 535.7,88.3 535.8,88.6 535.8,88.9 535.8,89.2 535.8,89.5 535.8,89.7 535.8,90.0 535.8,90.2 535.9,90.4 535.9,90.5 535.9,90.7 535.9,90.8 536.0,90.8 536.0,90.7 536.0,90.5 536.0,90.4 536.0,90.2 536.0,90.0 536.0,89.8 536.1,89.5 536.1,89.2 536.1,88.9 536.1,88.6 536.1,88.3 536.1,88.0 536.2,87.7 536.2,87.4 536.2,87.1 536.2,86.8 536.2,86.5 536.2,86.3 536.2,86.0 536.3,85.8 536.3,85.6 536.3,85.5 536.3,85.3 536.3,85.2 536.3,85.1 536.4,85.0 536.4,85.1 536.4,85.2 536.4,85.3 536.4,85.5 536.5,85.7 536.5,85.9 536.5,86.1 536.5,86.3 536.5,86.6 536.5,86.9 536.5,87.2 536.6,87.5 536.6,87.8 536.6,88.1 536.6,88.4 536.6,88.7 536.6,89.0 536.6,89.3 536.7,89.6 536.7,89.9 536.7,90.1 536.7,90.3 536.7,90.5 536.7,90.7 536.7,90.8 536.8,90.9 536.8,91.0 536.8,90.9 536.8,90.8 536.8,90.6 536.9,90.4 536.9,90.2 536.9,90.0 536.9,89.7 536.9,89.5 536.9,89.2 536.9,88.9 537.0,88.5 537.0,88.2 537.0,87.9 537.0,87.6 537.0,87.3 537.0,87.0 537.0,86.7 537.1,86.4 537.1,86.1 537.1,85.9 537.1,85.7 537.1,85.5 537.1,85.3 537.1,85.2 537.2,85.0 537.2,84.9 537.2,85.0 537.3,85.1 537.3,85.3 537.3,85.4 537.3,85.6 537.3,85.8 537.3,86.1 537.3,86.4 537.4,86.6 537.4,86.9 537.4,87.2 537.4,87.6 537.4,87.9 537.4,88.2 537.4,88.6 537.4,88.9 537.5,89.2 537.5,89.5 537.5,89.8 537.5,90.1 537.5,90.4 537.5,90.6 537.5,90.8 537.6,90.9 537.6,91.0 537.6,91.1 537.6,91.2 537.6,91.1 537.6,91.0 537.7,90.9 537.7,90.7 537.7,90.5 537.7,90.3 537.7,90.1 537.7,89.8 537.7,89.5 537.8,89.1 537.8,88.8 537.8,88.5 537.8,88.1 537.8,87.8 537.8,87.4 537.8,87.1 537.9,86.8 537.9,86.5 537.9,86.2 537.9,85.9 537.9,85.7 537.9,85.4 537.9,85.2 538.0,85.1 538.0,84.9 538.0,84.8 538.0,84.7 538.1,84.8 538.1,84.9 538.1,85.0 538.1,85.2 538.1,85.3 538.1,85.6 538.1,85.8 538.2,86.1 538.2,86.4 538.2,86.7 538.2,87.0 538.2,87.3 538.2,87.7 538.2,88.0 538.2,88.4 538.3,88.8 538.3,89.1 538.3,89.5 538.3,89.8 538.3,90.1 538.3,90.4 538.3,90.7 538.4,90.9 538.4,91.1 538.4,91.2 538.4,91.3 538.4,91.4 538.5,91.4 538.5,91.3 538.5,91.1 538.5,90.9 538.5,90.7 538.5,90.4 538.5,90.1 538.6,89.8 538.6,89.5 538.6,89.1 538.6,88.8 538.6,88.4 538.6,88.0 538.6,87.6 538.6,87.3 538.7,86.9 538.7,86.6 538.7,86.3 538.7,86.0 538.7,85.7 538.7,85.4 538.7,85.2 538.8,85.0 538.8,84.8 538.8,84.7 538.8,84.6 538.8,84.5 538.9,84.5 538.9,84.6 538.9,84.7 538.9,84.8 538.9,85.0 538.9,85.2 538.9,85.5 539.0,85.7 539.0,86.0 539.0,86.4 539.0,86.7 539.0,87.1 539.0,87.4 539.0,87.8 539.0,88.2 539.1,88.6 539.1,89.0 539.1,89.4 539.1,89.7 539.1,90.1 539.1,90.4 539.1,90.7 539.2,91.0 539.2,91.2 539.2,91.4 539.2,91.6 539.2,91.7 539.2,91.8 539.3,91.7 539.3,91.5 539.3,91.3 539.3,91.1 539.3,90.9 539.3,90.6 539.3,90.2 539.4,89.9 539.4,89.5 539.4,89.1 539.4,88.7 539.4,88.3 539.4,87.9 539.4,87.5 539.5,87.1 539.5,86.7 539.5,86.4 539.5,86.0 539.5,85.7 539.5,85.4 539.5,85.1 539.6,84.9 539.6,84.7 539.6,84.5 539.6,84.4 539.6,84.3 539.6,84.2 539.7,84.3 539.7,84.4 539.7,84.5 539.7,84.7 539.7,84.9 539.7,85.1 539.7,85.4 539.8,85.7 539.8,86.0 539.8,86.4 539.8,86.7 539.8,87.1 539.8,87.5 539.8,88.0 539.9,88.4 539.9,88.8 539.9,89.3 539.9,89.7 539.9,90.1 539.9,90.5 539.9,90.8 539.9,91.1 540.0,91.4 540.0,91.7 540.0,91.9 540.0,92.0 540.0,92.1 540.0,92.2 540.1,92.1 540.1,92.0 540.1,91.8 540.1,91.6 540.1,91.3 540.1,91.0 540.1,90.7 540.1,90.3 540.2,89.9 540.2,89.5 540.2,89.1 540.2,88.6"/>
<path stroke="#14B44A" stroke-width="1.6" d="M151.8,269.3 L232.3,198.8"/>
</g>
<g stroke="#4a4a4a" stroke-width="0.9" fill="none"><line x1="230.5" y1="65.9" x2="220.6" y2="102.8"/><line x1="115.7" y1="218.6" x2="107.1" y2="247.8"/><line x1="153.6" y1="279.2" x2="181.3" y2="306.4"/></g>
<g stroke-width="1.2" fill="none"><line x1="52" y1="103.5" x2="67" y2="103.5" stroke="#8429B3"/><line x1="52" y1="123.4" x2="67" y2="123.4" stroke="#0F76CC"/><line x1="52" y1="137.7" x2="67" y2="137.7" stroke="#FF0A0A"/></g>
<g font-family="'Liberation Serif', serif" fill="#151515">
<text transform="translate(41.9,34.4) scale(1,1.07)" font-size="10.6" text-anchor="end" stroke="#151515" stroke-width="0.2">10</text>
<text transform="translate(41.8,91.5) scale(1,1.07)" font-size="10.6" text-anchor="end" stroke="#151515" stroke-width="0.2">1</text>
<text transform="translate(41.3,151.5) scale(1,1.07)" font-size="10.6" text-anchor="end" stroke="#151515" stroke-width="0.2">0.1</text>
<text transform="translate(40.9,210.0) scale(1,1.07)" font-size="10.6" text-anchor="end" stroke="#151515" stroke-width="0.2">0.01</text>
<text transform="translate(40.1,269.5) scale(1,1.07)" font-size="10.6" text-anchor="end" stroke="#151515" stroke-width="0.2">0.001</text>
<text transform="translate(39.5,329.7) scale(1,1.07)" font-size="10.6" text-anchor="end" stroke="#151515" stroke-width="0.2">0.0001</text>
<text transform="translate(39.1,386.0) scale(1,1.07)" font-size="10.6" text-anchor="end" stroke="#151515" stroke-width="0.2">0.00001</text>
<text transform="translate(46.45,396.7) scale(1,1.07)" font-size="10.6" text-anchor="middle" stroke="#151515" stroke-width="0.2">0.001</text>
<text transform="translate(169.3,396.7) scale(1,1.07)" font-size="10.6" text-anchor="middle" stroke="#151515" stroke-width="0.2">0.01</text>
<text transform="translate(292.3,396.7) scale(1,1.07)" font-size="10.6" text-anchor="middle" stroke="#151515" stroke-width="0.2">0.1</text>
<text transform="translate(415.8,396.7) scale(1,1.07)" font-size="10.6" text-anchor="middle" stroke="#151515" stroke-width="0.2">1</text>
<text transform="translate(538.85,396.7) scale(1,1.07)" font-size="10.6" text-anchor="middle" stroke="#151515" stroke-width="0.2">10</text>
<text x="50" y="23.3" font-size="20" stroke="#151515" stroke-width="0.25">&lt;</text>
<text x="65" y="21.6" font-family="'Liberation Sans', sans-serif" font-style="italic" font-size="16.5" stroke="#151515" stroke-width="0.25">r</text>
<text transform="translate(71.4,11.3) scale(0.66,1)" font-family="'Liberation Sans', sans-serif" font-size="11" stroke="#151515" stroke-width="0.2">2</text>
<text x="77" y="23.3" font-size="20" stroke="#151515" stroke-width="0.25">&gt;</text>
<text x="92.6" y="21.6" font-size="18.5" stroke="#151515" stroke-width="0.3">(<tspan font-size="17.8" dx="0.9">cm</tspan></text>
<text transform="translate(121.3,12.1) scale(0.8,1)" font-size="10.5" stroke="#151515" stroke-width="0.2">2</text>
<text x="127.6" y="21.6" font-size="18.5" stroke="#151515" stroke-width="0.3">)</text>
<text x="473.8" y="400.8" font-size="20" font-style="italic" stroke="#151515" stroke-width="0.5">t</text>
<text x="481.4" y="400.2" font-size="18.5" stroke="#151515" stroke-width="0.25">(<tspan dx="0.3">s</tspan><tspan dx="0.3">)</tspan></text>
<text x="68" y="106.8" font-size="11.5" fill="#8429B3" stroke="#8429B3" stroke-width="0.3" textLength="85.6" lengthAdjust="spacing">Uncoated particle</text>
<text x="154.6" y="106.8" font-size="10.2" font-weight="bold" stroke="#151515" stroke-width="0.3">(1)</text>
<text x="68.8" y="126.8" font-size="11.5" fill="#0F76CC" stroke="#0F76CC" stroke-width="0.3" textLength="86.6" lengthAdjust="spacing">Cu coated particle</text>
<text x="156" y="126.8" font-size="10.2" font-weight="bold" stroke="#151515" stroke-width="0.3">(2)</text>
<text x="68" y="141.5" font-size="11.5" fill="#FF0A0A" stroke="#FF0A0A" stroke-width="0.3" textLength="66" lengthAdjust="spacing">Janus particle</text>
<text x="137.3" y="141.5" font-size="10.2" font-weight="bold" stroke="#151515" stroke-width="0.3">(3)</text>
<text x="231" y="64.7" font-size="11" font-weight="bold">3</text>
<text x="108.8" y="252.5" font-size="11" font-weight="bold">2</text>
<text x="182.2" y="310.9" font-size="11" font-weight="bold">1</text>
<text x="181" y="234.2" font-size="19.5" fill="#14B44A" stroke="#14B44A" stroke-width="0.3">t<tspan font-size="7.5" dy="-9.5" dx="0.5">2</tspan></text>
</g>
</svg>
</body></html>
